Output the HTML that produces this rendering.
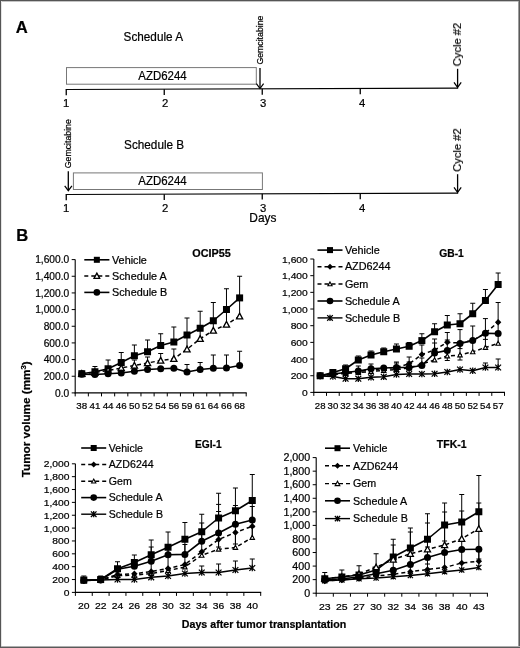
<!DOCTYPE html>
<html lang="en"><head><meta charset="utf-8"><title>Figure</title>
<style>html,body{margin:0;padding:0;background:#fff}svg{display:block}text{font-family:"Liberation Sans", Arial, Helvetica, sans-serif;fill:#000;stroke:#000;stroke-width:0.22px;paint-order:stroke fill}</style>
</head><body>
<svg width="520" height="648" viewBox="0 0 520 648">
<rect x="0" y="0" width="520" height="648" fill="#fff"/>
<defs><filter id="soft" x="-5" y="-5" width="530" height="658" filterUnits="userSpaceOnUse"><feGaussianBlur stdDeviation="0.32"/></filter></defs>
<g filter="url(#soft)">
<text transform="translate(15.80 33.20)" font-size="16.6" text-anchor="start" font-weight="bold">A</text>
<text transform="translate(16.30 241.00)" font-size="16.6" text-anchor="start" font-weight="bold">B</text>
<text transform="translate(123.60 41.00) scale(0.94 1)" font-size="12.5" text-anchor="start" font-weight="normal">Schedule A</text>
<rect x="66.5" y="67.6" width="189.8" height="16.6" fill="#fff" stroke="#777" stroke-width="1"/>
<text transform="translate(162.50 80.20) scale(0.925 1)" font-size="12.4" text-anchor="middle" font-weight="normal">AZD6244</text>
<line x1="65.70" y1="89.50" x2="458.20" y2="88.20" stroke="#000" stroke-width="1.2" stroke-linecap="butt"/>
<line x1="66.25" y1="89.50" x2="66.25" y2="95.30" stroke="#000" stroke-width="1.3" stroke-linecap="butt"/>
<text transform="translate(66.25 107.00)" font-size="11.3" text-anchor="middle" font-weight="normal">1</text>
<line x1="164.25" y1="89.17" x2="164.25" y2="94.97" stroke="#000" stroke-width="1.3" stroke-linecap="butt"/>
<text transform="translate(165.05 107.00)" font-size="11.3" text-anchor="middle" font-weight="normal">2</text>
<line x1="262.25" y1="88.85" x2="262.25" y2="94.65" stroke="#000" stroke-width="1.3" stroke-linecap="butt"/>
<text transform="translate(263.05 107.00)" font-size="11.3" text-anchor="middle" font-weight="normal">3</text>
<line x1="360.25" y1="88.52" x2="360.25" y2="94.32" stroke="#000" stroke-width="1.3" stroke-linecap="butt"/>
<text transform="translate(362.05 107.00)" font-size="11.3" text-anchor="middle" font-weight="normal">4</text>
<line x1="260.00" y1="68.00" x2="260.00" y2="88.00" stroke="#000" stroke-width="1.3" stroke-linecap="butt"/>
<polyline points="256.4,83.6 260,88.5 263.6,83.6" fill="none" stroke="#000" stroke-width="1.2"/>
<text transform="translate(263.30 64.60) rotate(-90) scale(0.93 1)" font-size="9.4" text-anchor="start" font-weight="normal">Gemcitabine</text>
<line x1="457.60" y1="68.80" x2="457.60" y2="87.00" stroke="#000" stroke-width="1.3" stroke-linecap="butt"/>
<polyline points="454,82.4 457.6,87.4 461.2,82.4" fill="none" stroke="#000" stroke-width="1.2"/>
<text transform="translate(461.00 66.30) rotate(-90) scale(0.992 1)" font-size="11.3" text-anchor="start" font-weight="normal">Cycle #2</text>
<text transform="translate(124.10 149.20) scale(0.94 1)" font-size="12.5" text-anchor="start" font-weight="normal">Schedule B</text>
<rect x="73.4" y="172.9" width="189" height="16.6" fill="#fff" stroke="#777" stroke-width="1"/>
<text transform="translate(162.50 185.20) scale(0.925 1)" font-size="12.4" text-anchor="middle" font-weight="normal">AZD6244</text>
<line x1="65.70" y1="194.50" x2="458.20" y2="193.10" stroke="#000" stroke-width="1.2" stroke-linecap="butt"/>
<line x1="66.25" y1="194.50" x2="66.25" y2="200.30" stroke="#000" stroke-width="1.3" stroke-linecap="butt"/>
<text transform="translate(66.25 211.90)" font-size="11.3" text-anchor="middle" font-weight="normal">1</text>
<line x1="164.25" y1="194.15" x2="164.25" y2="199.95" stroke="#000" stroke-width="1.3" stroke-linecap="butt"/>
<text transform="translate(165.05 211.90)" font-size="11.3" text-anchor="middle" font-weight="normal">2</text>
<line x1="262.25" y1="193.80" x2="262.25" y2="199.60" stroke="#000" stroke-width="1.3" stroke-linecap="butt"/>
<text transform="translate(263.05 211.90)" font-size="11.3" text-anchor="middle" font-weight="normal">3</text>
<line x1="360.25" y1="193.45" x2="360.25" y2="199.25" stroke="#000" stroke-width="1.3" stroke-linecap="butt"/>
<text transform="translate(362.05 211.90)" font-size="11.3" text-anchor="middle" font-weight="normal">4</text>
<line x1="68.30" y1="171.30" x2="68.30" y2="190.00" stroke="#000" stroke-width="1.3" stroke-linecap="butt"/>
<polyline points="64.7,185.8 68.3,190.7 71.9,185.8" fill="none" stroke="#000" stroke-width="1.2"/>
<text transform="translate(71.20 168.20) rotate(-90) scale(0.93 1)" font-size="9.4" text-anchor="start" font-weight="normal">Gemcitabine</text>
<line x1="457.60" y1="174.20" x2="457.60" y2="192.00" stroke="#000" stroke-width="1.3" stroke-linecap="butt"/>
<polyline points="454,187.4 457.6,192.4 461.2,187.4" fill="none" stroke="#000" stroke-width="1.2"/>
<text transform="translate(461.00 171.80) rotate(-90) scale(0.992 1)" font-size="11.3" text-anchor="start" font-weight="normal">Cycle #2</text>
<text transform="translate(262.90 222.20)" font-size="11.9" text-anchor="middle" font-weight="normal">Days</text>
<text font-size="11.3" font-weight="bold" text-anchor="middle" transform="translate(29.6 419.3) rotate(-90) scale(1.037 1)">Tumor volume (mm<tspan dy="-4" font-size="7.5">3</tspan><tspan dy="4">)</tspan></text>
<text transform="translate(264.00 628.30) scale(1.005 1)" font-size="10.6" text-anchor="middle" font-weight="bold">Days after tumor transplantation</text>
<line x1="75.20" y1="259.60" x2="75.20" y2="393.40" stroke="#000" stroke-width="1.1" stroke-linecap="butt"/>
<line x1="74.70" y1="392.90" x2="246.70" y2="392.90" stroke="#000" stroke-width="1.1" stroke-linecap="butt"/>
<line x1="71.70" y1="392.90" x2="75.20" y2="392.90" stroke="#000" stroke-width="1" stroke-linecap="butt"/>
<text transform="translate(69.20 396.57)" font-size="10.2" text-anchor="end" font-weight="normal">0.0</text>
<line x1="71.70" y1="376.24" x2="75.20" y2="376.24" stroke="#000" stroke-width="1" stroke-linecap="butt"/>
<text transform="translate(69.20 379.91)" font-size="10.2" text-anchor="end" font-weight="normal">200.0</text>
<line x1="71.70" y1="359.57" x2="75.20" y2="359.57" stroke="#000" stroke-width="1" stroke-linecap="butt"/>
<text transform="translate(69.20 363.25)" font-size="10.2" text-anchor="end" font-weight="normal">400.0</text>
<line x1="71.70" y1="342.91" x2="75.20" y2="342.91" stroke="#000" stroke-width="1" stroke-linecap="butt"/>
<text transform="translate(69.20 346.58)" font-size="10.2" text-anchor="end" font-weight="normal">600.0</text>
<line x1="71.70" y1="326.25" x2="75.20" y2="326.25" stroke="#000" stroke-width="1" stroke-linecap="butt"/>
<text transform="translate(69.20 329.92)" font-size="10.2" text-anchor="end" font-weight="normal">800.0</text>
<line x1="71.70" y1="309.59" x2="75.20" y2="309.59" stroke="#000" stroke-width="1" stroke-linecap="butt"/>
<text transform="translate(69.20 313.26)" font-size="10.2" text-anchor="end" font-weight="normal">1,000.0</text>
<line x1="71.70" y1="292.93" x2="75.20" y2="292.93" stroke="#000" stroke-width="1" stroke-linecap="butt"/>
<text transform="translate(69.20 296.60)" font-size="10.2" text-anchor="end" font-weight="normal">1,200.0</text>
<line x1="71.70" y1="276.26" x2="75.20" y2="276.26" stroke="#000" stroke-width="1" stroke-linecap="butt"/>
<text transform="translate(69.20 279.93)" font-size="10.2" text-anchor="end" font-weight="normal">1,400.0</text>
<line x1="71.70" y1="259.60" x2="75.20" y2="259.60" stroke="#000" stroke-width="1" stroke-linecap="butt"/>
<text transform="translate(69.20 263.27)" font-size="10.2" text-anchor="end" font-weight="normal">1,600.0</text>
<line x1="75.20" y1="392.90" x2="75.20" y2="396.40" stroke="#000" stroke-width="1" stroke-linecap="butt"/>
<line x1="88.35" y1="392.90" x2="88.35" y2="396.40" stroke="#000" stroke-width="1" stroke-linecap="butt"/>
<line x1="101.51" y1="392.90" x2="101.51" y2="396.40" stroke="#000" stroke-width="1" stroke-linecap="butt"/>
<line x1="114.66" y1="392.90" x2="114.66" y2="396.40" stroke="#000" stroke-width="1" stroke-linecap="butt"/>
<line x1="127.82" y1="392.90" x2="127.82" y2="396.40" stroke="#000" stroke-width="1" stroke-linecap="butt"/>
<line x1="140.97" y1="392.90" x2="140.97" y2="396.40" stroke="#000" stroke-width="1" stroke-linecap="butt"/>
<line x1="154.12" y1="392.90" x2="154.12" y2="396.40" stroke="#000" stroke-width="1" stroke-linecap="butt"/>
<line x1="167.28" y1="392.90" x2="167.28" y2="396.40" stroke="#000" stroke-width="1" stroke-linecap="butt"/>
<line x1="180.43" y1="392.90" x2="180.43" y2="396.40" stroke="#000" stroke-width="1" stroke-linecap="butt"/>
<line x1="193.58" y1="392.90" x2="193.58" y2="396.40" stroke="#000" stroke-width="1" stroke-linecap="butt"/>
<line x1="206.74" y1="392.90" x2="206.74" y2="396.40" stroke="#000" stroke-width="1" stroke-linecap="butt"/>
<line x1="219.89" y1="392.90" x2="219.89" y2="396.40" stroke="#000" stroke-width="1" stroke-linecap="butt"/>
<line x1="233.05" y1="392.90" x2="233.05" y2="396.40" stroke="#000" stroke-width="1" stroke-linecap="butt"/>
<line x1="246.20" y1="392.90" x2="246.20" y2="396.40" stroke="#000" stroke-width="1" stroke-linecap="butt"/>
<text transform="translate(81.78 408.50)" font-size="9.8" text-anchor="middle" font-weight="normal">38</text>
<text transform="translate(94.93 408.50)" font-size="9.8" text-anchor="middle" font-weight="normal">41</text>
<text transform="translate(108.08 408.50)" font-size="9.8" text-anchor="middle" font-weight="normal">44</text>
<text transform="translate(121.24 408.50)" font-size="9.8" text-anchor="middle" font-weight="normal">46</text>
<text transform="translate(134.39 408.50)" font-size="9.8" text-anchor="middle" font-weight="normal">50</text>
<text transform="translate(147.55 408.50)" font-size="9.8" text-anchor="middle" font-weight="normal">52</text>
<text transform="translate(160.70 408.50)" font-size="9.8" text-anchor="middle" font-weight="normal">54</text>
<text transform="translate(173.85 408.50)" font-size="9.8" text-anchor="middle" font-weight="normal">56</text>
<text transform="translate(187.01 408.50)" font-size="9.8" text-anchor="middle" font-weight="normal">59</text>
<text transform="translate(200.16 408.50)" font-size="9.8" text-anchor="middle" font-weight="normal">61</text>
<text transform="translate(213.32 408.50)" font-size="9.8" text-anchor="middle" font-weight="normal">64</text>
<text transform="translate(226.47 408.50)" font-size="9.8" text-anchor="middle" font-weight="normal">66</text>
<text transform="translate(239.62 408.50)" font-size="9.8" text-anchor="middle" font-weight="normal">68</text>
<line x1="187.01" y1="335.00" x2="187.01" y2="349.25" stroke="#000" stroke-width="1" stroke-linecap="butt"/>
<line x1="200.16" y1="328.25" x2="200.16" y2="338.75" stroke="#000" stroke-width="1" stroke-linecap="butt"/>
<line x1="213.32" y1="320.75" x2="213.32" y2="330.50" stroke="#000" stroke-width="1" stroke-linecap="butt"/>
<line x1="226.47" y1="309.50" x2="226.47" y2="324.50" stroke="#000" stroke-width="1" stroke-linecap="butt"/>
<line x1="239.62" y1="297.90" x2="239.62" y2="316.25" stroke="#000" stroke-width="1" stroke-linecap="butt"/>
<line x1="81.78" y1="373.75" x2="81.78" y2="371.00" stroke="#000" stroke-width="1" stroke-linecap="butt"/>
<line x1="79.28" y1="371.00" x2="84.28" y2="371.00" stroke="#000" stroke-width="1" stroke-linecap="butt"/>
<line x1="94.93" y1="371.75" x2="94.93" y2="366.50" stroke="#000" stroke-width="1" stroke-linecap="butt"/>
<line x1="92.43" y1="366.50" x2="97.43" y2="366.50" stroke="#000" stroke-width="1" stroke-linecap="butt"/>
<line x1="108.08" y1="368.75" x2="108.08" y2="360.00" stroke="#000" stroke-width="1" stroke-linecap="butt"/>
<line x1="105.58" y1="360.00" x2="110.58" y2="360.00" stroke="#000" stroke-width="1" stroke-linecap="butt"/>
<line x1="121.24" y1="362.50" x2="121.24" y2="352.50" stroke="#000" stroke-width="1" stroke-linecap="butt"/>
<line x1="118.74" y1="352.50" x2="123.74" y2="352.50" stroke="#000" stroke-width="1" stroke-linecap="butt"/>
<line x1="134.39" y1="355.75" x2="134.39" y2="345.00" stroke="#000" stroke-width="1" stroke-linecap="butt"/>
<line x1="131.89" y1="345.00" x2="136.89" y2="345.00" stroke="#000" stroke-width="1" stroke-linecap="butt"/>
<line x1="147.55" y1="351.75" x2="147.55" y2="340.00" stroke="#000" stroke-width="1" stroke-linecap="butt"/>
<line x1="145.05" y1="340.00" x2="150.05" y2="340.00" stroke="#000" stroke-width="1" stroke-linecap="butt"/>
<line x1="160.70" y1="345.50" x2="160.70" y2="333.75" stroke="#000" stroke-width="1" stroke-linecap="butt"/>
<line x1="158.20" y1="333.75" x2="163.20" y2="333.75" stroke="#000" stroke-width="1" stroke-linecap="butt"/>
<line x1="173.85" y1="342.00" x2="173.85" y2="327.00" stroke="#000" stroke-width="1" stroke-linecap="butt"/>
<line x1="171.35" y1="327.00" x2="176.35" y2="327.00" stroke="#000" stroke-width="1" stroke-linecap="butt"/>
<line x1="187.01" y1="335.00" x2="187.01" y2="318.00" stroke="#000" stroke-width="1" stroke-linecap="butt"/>
<line x1="184.51" y1="318.00" x2="189.51" y2="318.00" stroke="#000" stroke-width="1" stroke-linecap="butt"/>
<line x1="200.16" y1="328.25" x2="200.16" y2="311.25" stroke="#000" stroke-width="1" stroke-linecap="butt"/>
<line x1="197.66" y1="311.25" x2="202.66" y2="311.25" stroke="#000" stroke-width="1" stroke-linecap="butt"/>
<line x1="213.32" y1="320.75" x2="213.32" y2="302.50" stroke="#000" stroke-width="1" stroke-linecap="butt"/>
<line x1="210.82" y1="302.50" x2="215.82" y2="302.50" stroke="#000" stroke-width="1" stroke-linecap="butt"/>
<line x1="226.47" y1="309.50" x2="226.47" y2="288.75" stroke="#000" stroke-width="1" stroke-linecap="butt"/>
<line x1="223.97" y1="288.75" x2="228.97" y2="288.75" stroke="#000" stroke-width="1" stroke-linecap="butt"/>
<line x1="239.62" y1="297.90" x2="239.62" y2="276.25" stroke="#000" stroke-width="1" stroke-linecap="butt"/>
<line x1="237.12" y1="276.25" x2="242.12" y2="276.25" stroke="#000" stroke-width="1" stroke-linecap="butt"/>
<line x1="134.39" y1="365.50" x2="134.39" y2="360.00" stroke="#000" stroke-width="1" stroke-linecap="butt"/>
<line x1="131.89" y1="360.00" x2="136.89" y2="360.00" stroke="#000" stroke-width="1" stroke-linecap="butt"/>
<line x1="147.55" y1="363.00" x2="147.55" y2="357.00" stroke="#000" stroke-width="1" stroke-linecap="butt"/>
<line x1="145.05" y1="357.00" x2="150.05" y2="357.00" stroke="#000" stroke-width="1" stroke-linecap="butt"/>
<line x1="160.70" y1="360.50" x2="160.70" y2="353.50" stroke="#000" stroke-width="1" stroke-linecap="butt"/>
<line x1="158.20" y1="353.50" x2="163.20" y2="353.50" stroke="#000" stroke-width="1" stroke-linecap="butt"/>
<line x1="173.85" y1="358.75" x2="173.85" y2="349.00" stroke="#000" stroke-width="1" stroke-linecap="butt"/>
<line x1="171.35" y1="349.00" x2="176.35" y2="349.00" stroke="#000" stroke-width="1" stroke-linecap="butt"/>
<line x1="187.01" y1="372.00" x2="187.01" y2="364.50" stroke="#000" stroke-width="1" stroke-linecap="butt"/>
<line x1="184.51" y1="364.50" x2="189.51" y2="364.50" stroke="#000" stroke-width="1" stroke-linecap="butt"/>
<line x1="200.16" y1="369.50" x2="200.16" y2="362.50" stroke="#000" stroke-width="1" stroke-linecap="butt"/>
<line x1="197.66" y1="362.50" x2="202.66" y2="362.50" stroke="#000" stroke-width="1" stroke-linecap="butt"/>
<line x1="213.32" y1="368.25" x2="213.32" y2="355.00" stroke="#000" stroke-width="1" stroke-linecap="butt"/>
<line x1="210.82" y1="355.00" x2="215.82" y2="355.00" stroke="#000" stroke-width="1" stroke-linecap="butt"/>
<line x1="226.47" y1="368.00" x2="226.47" y2="355.00" stroke="#000" stroke-width="1" stroke-linecap="butt"/>
<line x1="223.97" y1="355.00" x2="228.97" y2="355.00" stroke="#000" stroke-width="1" stroke-linecap="butt"/>
<line x1="239.62" y1="365.50" x2="239.62" y2="351.25" stroke="#000" stroke-width="1" stroke-linecap="butt"/>
<line x1="237.12" y1="351.25" x2="242.12" y2="351.25" stroke="#000" stroke-width="1" stroke-linecap="butt"/>
<polyline points="81.78,373.75 94.93,371.75 108.08,368.75 121.24,362.50 134.39,355.75 147.55,351.75 160.70,345.50 173.85,342.00 187.01,335.00 200.16,328.25 213.32,320.75 226.47,309.50 239.62,297.90" fill="none" stroke="#000" stroke-width="1.6" stroke-linejoin="round"/>
<polyline points="81.78,373.75 94.93,372.50 108.08,370.50 121.24,368.00 134.39,365.50 147.55,363.00 160.70,360.50 173.85,358.75 187.01,349.25 200.16,338.75 213.32,330.50 226.47,324.50 239.62,316.25" fill="none" stroke="#000" stroke-width="1.5" stroke-dasharray="4 3" stroke-linejoin="round"/>
<polyline points="81.78,374.25 94.93,374.50 108.08,373.75 121.24,373.00 134.39,371.25 147.55,369.50 160.70,368.75 173.85,368.25 187.01,372.00 200.16,369.50 213.32,368.25 226.47,368.00 239.62,365.50" fill="none" stroke="#000" stroke-width="1.6" stroke-linejoin="round"/>
<rect x="78.28" y="370.25" width="7.00" height="7.00" fill="#000"/>
<rect x="91.43" y="368.25" width="7.00" height="7.00" fill="#000"/>
<rect x="104.58" y="365.25" width="7.00" height="7.00" fill="#000"/>
<rect x="117.74" y="359.00" width="7.00" height="7.00" fill="#000"/>
<rect x="130.89" y="352.25" width="7.00" height="7.00" fill="#000"/>
<rect x="144.05" y="348.25" width="7.00" height="7.00" fill="#000"/>
<rect x="157.20" y="342.00" width="7.00" height="7.00" fill="#000"/>
<rect x="170.35" y="338.50" width="7.00" height="7.00" fill="#000"/>
<rect x="183.51" y="331.50" width="7.00" height="7.00" fill="#000"/>
<rect x="196.66" y="324.75" width="7.00" height="7.00" fill="#000"/>
<rect x="209.82" y="317.25" width="7.00" height="7.00" fill="#000"/>
<rect x="222.97" y="306.00" width="7.00" height="7.00" fill="#000"/>
<rect x="236.12" y="294.40" width="7.00" height="7.00" fill="#000"/>
<polygon points="81.78,370.65 84.88,376.38 78.68,376.38" fill="#fff" stroke="#000" stroke-width="1.3"/>
<polygon points="94.93,369.40 98.03,375.13 91.83,375.13" fill="#fff" stroke="#000" stroke-width="1.3"/>
<polygon points="108.08,367.40 111.18,373.13 104.98,373.13" fill="#fff" stroke="#000" stroke-width="1.3"/>
<polygon points="121.24,364.90 124.34,370.63 118.14,370.63" fill="#fff" stroke="#000" stroke-width="1.3"/>
<polygon points="134.39,362.40 137.49,368.13 131.29,368.13" fill="#fff" stroke="#000" stroke-width="1.3"/>
<polygon points="147.55,359.90 150.65,365.63 144.45,365.63" fill="#fff" stroke="#000" stroke-width="1.3"/>
<polygon points="160.70,357.40 163.80,363.13 157.60,363.13" fill="#fff" stroke="#000" stroke-width="1.3"/>
<polygon points="173.85,355.65 176.95,361.38 170.75,361.38" fill="#fff" stroke="#000" stroke-width="1.3"/>
<polygon points="187.01,346.15 190.11,351.88 183.91,351.88" fill="#fff" stroke="#000" stroke-width="1.3"/>
<polygon points="200.16,335.65 203.26,341.38 197.06,341.38" fill="#fff" stroke="#000" stroke-width="1.3"/>
<polygon points="213.32,327.40 216.42,333.13 210.22,333.13" fill="#fff" stroke="#000" stroke-width="1.3"/>
<polygon points="226.47,321.40 229.57,327.13 223.37,327.13" fill="#fff" stroke="#000" stroke-width="1.3"/>
<polygon points="239.62,313.15 242.72,318.88 236.52,318.88" fill="#fff" stroke="#000" stroke-width="1.3"/>
<circle cx="81.78" cy="374.25" r="3.50" fill="#000"/>
<circle cx="94.93" cy="374.50" r="3.50" fill="#000"/>
<circle cx="108.08" cy="373.75" r="3.50" fill="#000"/>
<circle cx="121.24" cy="373.00" r="3.50" fill="#000"/>
<circle cx="134.39" cy="371.25" r="3.50" fill="#000"/>
<circle cx="147.55" cy="369.50" r="3.50" fill="#000"/>
<circle cx="160.70" cy="368.75" r="3.50" fill="#000"/>
<circle cx="173.85" cy="368.25" r="3.50" fill="#000"/>
<circle cx="187.01" cy="372.00" r="3.50" fill="#000"/>
<circle cx="200.16" cy="369.50" r="3.50" fill="#000"/>
<circle cx="213.32" cy="368.25" r="3.50" fill="#000"/>
<circle cx="226.47" cy="368.00" r="3.50" fill="#000"/>
<circle cx="239.62" cy="365.50" r="3.50" fill="#000"/>
<text transform="translate(211.50 257.00)" font-size="10.8" text-anchor="middle" font-weight="bold">OCIP55</text>
<line x1="84.30" y1="259.80" x2="109.40" y2="259.80" stroke="#000" stroke-width="1.6" stroke-linecap="butt"/>
<rect x="93.84" y="256.79" width="6.02" height="6.02" fill="#000"/>
<text transform="translate(112.00 263.50) scale(1.04 1)" font-size="10.4" text-anchor="start" font-weight="normal">Vehicle</text>
<line x1="84.30" y1="276.00" x2="109.40" y2="276.00" stroke="#000" stroke-width="1.4" stroke-dasharray="4 3" stroke-linecap="butt"/>
<polygon points="96.85,273.15 99.70,278.42 94.00,278.42" fill="#fff" stroke="#000" stroke-width="1.3"/>
<text transform="translate(112.00 279.70) scale(1.04 1)" font-size="10.4" text-anchor="start" font-weight="normal">Schedule A</text>
<line x1="84.30" y1="292.40" x2="109.40" y2="292.40" stroke="#000" stroke-width="1.6" stroke-linecap="butt"/>
<circle cx="96.85" cy="292.40" r="3.32" fill="#000"/>
<text transform="translate(112.00 296.10) scale(1.04 1)" font-size="10.4" text-anchor="start" font-weight="normal">Schedule B</text>
<line x1="313.80" y1="259.00" x2="313.80" y2="392.90" stroke="#000" stroke-width="1.1" stroke-linecap="butt"/>
<line x1="313.30" y1="392.40" x2="505.00" y2="392.40" stroke="#000" stroke-width="1.1" stroke-linecap="butt"/>
<line x1="310.30" y1="392.40" x2="313.80" y2="392.40" stroke="#000" stroke-width="1" stroke-linecap="butt"/>
<text transform="translate(307.80 395.96) scale(1.04 1)" font-size="9.9" text-anchor="end" font-weight="normal">0</text>
<line x1="310.30" y1="375.72" x2="313.80" y2="375.72" stroke="#000" stroke-width="1" stroke-linecap="butt"/>
<text transform="translate(307.80 379.29) scale(1.04 1)" font-size="9.9" text-anchor="end" font-weight="normal">200</text>
<line x1="310.30" y1="359.05" x2="313.80" y2="359.05" stroke="#000" stroke-width="1" stroke-linecap="butt"/>
<text transform="translate(307.80 362.61) scale(1.04 1)" font-size="9.9" text-anchor="end" font-weight="normal">400</text>
<line x1="310.30" y1="342.38" x2="313.80" y2="342.38" stroke="#000" stroke-width="1" stroke-linecap="butt"/>
<text transform="translate(307.80 345.94) scale(1.04 1)" font-size="9.9" text-anchor="end" font-weight="normal">600</text>
<line x1="310.30" y1="325.70" x2="313.80" y2="325.70" stroke="#000" stroke-width="1" stroke-linecap="butt"/>
<text transform="translate(307.80 329.26) scale(1.04 1)" font-size="9.9" text-anchor="end" font-weight="normal">800</text>
<line x1="310.30" y1="309.02" x2="313.80" y2="309.02" stroke="#000" stroke-width="1" stroke-linecap="butt"/>
<text transform="translate(307.80 312.59) scale(1.04 1)" font-size="9.9" text-anchor="end" font-weight="normal">1,000</text>
<line x1="310.30" y1="292.35" x2="313.80" y2="292.35" stroke="#000" stroke-width="1" stroke-linecap="butt"/>
<text transform="translate(307.80 295.91) scale(1.04 1)" font-size="9.9" text-anchor="end" font-weight="normal">1,200</text>
<line x1="310.30" y1="275.68" x2="313.80" y2="275.68" stroke="#000" stroke-width="1" stroke-linecap="butt"/>
<text transform="translate(307.80 279.24) scale(1.04 1)" font-size="9.9" text-anchor="end" font-weight="normal">1,400</text>
<line x1="310.30" y1="259.00" x2="313.80" y2="259.00" stroke="#000" stroke-width="1" stroke-linecap="butt"/>
<text transform="translate(307.80 262.56) scale(1.04 1)" font-size="9.9" text-anchor="end" font-weight="normal">1,600</text>
<line x1="313.80" y1="392.40" x2="313.80" y2="395.90" stroke="#000" stroke-width="1" stroke-linecap="butt"/>
<line x1="326.51" y1="392.40" x2="326.51" y2="395.90" stroke="#000" stroke-width="1" stroke-linecap="butt"/>
<line x1="339.23" y1="392.40" x2="339.23" y2="395.90" stroke="#000" stroke-width="1" stroke-linecap="butt"/>
<line x1="351.94" y1="392.40" x2="351.94" y2="395.90" stroke="#000" stroke-width="1" stroke-linecap="butt"/>
<line x1="364.65" y1="392.40" x2="364.65" y2="395.90" stroke="#000" stroke-width="1" stroke-linecap="butt"/>
<line x1="377.37" y1="392.40" x2="377.37" y2="395.90" stroke="#000" stroke-width="1" stroke-linecap="butt"/>
<line x1="390.08" y1="392.40" x2="390.08" y2="395.90" stroke="#000" stroke-width="1" stroke-linecap="butt"/>
<line x1="402.79" y1="392.40" x2="402.79" y2="395.90" stroke="#000" stroke-width="1" stroke-linecap="butt"/>
<line x1="415.51" y1="392.40" x2="415.51" y2="395.90" stroke="#000" stroke-width="1" stroke-linecap="butt"/>
<line x1="428.22" y1="392.40" x2="428.22" y2="395.90" stroke="#000" stroke-width="1" stroke-linecap="butt"/>
<line x1="440.93" y1="392.40" x2="440.93" y2="395.90" stroke="#000" stroke-width="1" stroke-linecap="butt"/>
<line x1="453.65" y1="392.40" x2="453.65" y2="395.90" stroke="#000" stroke-width="1" stroke-linecap="butt"/>
<line x1="466.36" y1="392.40" x2="466.36" y2="395.90" stroke="#000" stroke-width="1" stroke-linecap="butt"/>
<line x1="479.07" y1="392.40" x2="479.07" y2="395.90" stroke="#000" stroke-width="1" stroke-linecap="butt"/>
<line x1="491.79" y1="392.40" x2="491.79" y2="395.90" stroke="#000" stroke-width="1" stroke-linecap="butt"/>
<line x1="504.50" y1="392.40" x2="504.50" y2="395.90" stroke="#000" stroke-width="1" stroke-linecap="butt"/>
<text transform="translate(320.16 408.80)" font-size="9.6" text-anchor="middle" font-weight="normal">28</text>
<text transform="translate(332.87 408.80)" font-size="9.6" text-anchor="middle" font-weight="normal">30</text>
<text transform="translate(345.58 408.80)" font-size="9.6" text-anchor="middle" font-weight="normal">32</text>
<text transform="translate(358.30 408.80)" font-size="9.6" text-anchor="middle" font-weight="normal">34</text>
<text transform="translate(371.01 408.80)" font-size="9.6" text-anchor="middle" font-weight="normal">36</text>
<text transform="translate(383.72 408.80)" font-size="9.6" text-anchor="middle" font-weight="normal">38</text>
<text transform="translate(396.44 408.80)" font-size="9.6" text-anchor="middle" font-weight="normal">40</text>
<text transform="translate(409.15 408.80)" font-size="9.6" text-anchor="middle" font-weight="normal">42</text>
<text transform="translate(421.86 408.80)" font-size="9.6" text-anchor="middle" font-weight="normal">44</text>
<text transform="translate(434.58 408.80)" font-size="9.6" text-anchor="middle" font-weight="normal">46</text>
<text transform="translate(447.29 408.80)" font-size="9.6" text-anchor="middle" font-weight="normal">48</text>
<text transform="translate(460.00 408.80)" font-size="9.6" text-anchor="middle" font-weight="normal">50</text>
<text transform="translate(472.72 408.80)" font-size="9.6" text-anchor="middle" font-weight="normal">52</text>
<text transform="translate(485.43 408.80)" font-size="9.6" text-anchor="middle" font-weight="normal">54</text>
<text transform="translate(498.14 408.80)" font-size="9.6" text-anchor="middle" font-weight="normal">57</text>
<line x1="434.58" y1="353.00" x2="434.58" y2="360.00" stroke="#000" stroke-width="1" stroke-linecap="butt"/>
<line x1="447.29" y1="350.40" x2="447.29" y2="356.00" stroke="#000" stroke-width="1" stroke-linecap="butt"/>
<line x1="460.00" y1="343.40" x2="460.00" y2="355.00" stroke="#000" stroke-width="1" stroke-linecap="butt"/>
<line x1="472.72" y1="340.60" x2="472.72" y2="351.80" stroke="#000" stroke-width="1" stroke-linecap="butt"/>
<line x1="485.43" y1="333.30" x2="485.43" y2="347.50" stroke="#000" stroke-width="1" stroke-linecap="butt"/>
<line x1="498.14" y1="322.20" x2="498.14" y2="343.40" stroke="#000" stroke-width="1" stroke-linecap="butt"/>
<line x1="345.58" y1="368.75" x2="345.58" y2="365.00" stroke="#000" stroke-width="1" stroke-linecap="butt"/>
<line x1="343.08" y1="365.00" x2="348.08" y2="365.00" stroke="#000" stroke-width="1" stroke-linecap="butt"/>
<line x1="358.30" y1="360.00" x2="358.30" y2="356.00" stroke="#000" stroke-width="1" stroke-linecap="butt"/>
<line x1="355.80" y1="356.00" x2="360.80" y2="356.00" stroke="#000" stroke-width="1" stroke-linecap="butt"/>
<line x1="371.01" y1="355.00" x2="371.01" y2="351.00" stroke="#000" stroke-width="1" stroke-linecap="butt"/>
<line x1="368.51" y1="351.00" x2="373.51" y2="351.00" stroke="#000" stroke-width="1" stroke-linecap="butt"/>
<line x1="383.72" y1="351.75" x2="383.72" y2="348.00" stroke="#000" stroke-width="1" stroke-linecap="butt"/>
<line x1="381.22" y1="348.00" x2="386.22" y2="348.00" stroke="#000" stroke-width="1" stroke-linecap="butt"/>
<line x1="396.44" y1="349.00" x2="396.44" y2="344.00" stroke="#000" stroke-width="1" stroke-linecap="butt"/>
<line x1="393.94" y1="344.00" x2="398.94" y2="344.00" stroke="#000" stroke-width="1" stroke-linecap="butt"/>
<line x1="409.15" y1="346.25" x2="409.15" y2="342.50" stroke="#000" stroke-width="1" stroke-linecap="butt"/>
<line x1="406.65" y1="342.50" x2="411.65" y2="342.50" stroke="#000" stroke-width="1" stroke-linecap="butt"/>
<line x1="421.86" y1="340.60" x2="421.86" y2="333.75" stroke="#000" stroke-width="1" stroke-linecap="butt"/>
<line x1="419.36" y1="333.75" x2="424.36" y2="333.75" stroke="#000" stroke-width="1" stroke-linecap="butt"/>
<line x1="434.58" y1="331.75" x2="434.58" y2="323.75" stroke="#000" stroke-width="1" stroke-linecap="butt"/>
<line x1="432.08" y1="323.75" x2="437.08" y2="323.75" stroke="#000" stroke-width="1" stroke-linecap="butt"/>
<line x1="447.29" y1="325.00" x2="447.29" y2="315.50" stroke="#000" stroke-width="1" stroke-linecap="butt"/>
<line x1="444.79" y1="315.50" x2="449.79" y2="315.50" stroke="#000" stroke-width="1" stroke-linecap="butt"/>
<line x1="460.00" y1="323.75" x2="460.00" y2="313.75" stroke="#000" stroke-width="1" stroke-linecap="butt"/>
<line x1="457.50" y1="313.75" x2="462.50" y2="313.75" stroke="#000" stroke-width="1" stroke-linecap="butt"/>
<line x1="472.72" y1="313.75" x2="472.72" y2="303.25" stroke="#000" stroke-width="1" stroke-linecap="butt"/>
<line x1="470.22" y1="303.25" x2="475.22" y2="303.25" stroke="#000" stroke-width="1" stroke-linecap="butt"/>
<line x1="485.43" y1="300.50" x2="485.43" y2="289.50" stroke="#000" stroke-width="1" stroke-linecap="butt"/>
<line x1="482.93" y1="289.50" x2="487.93" y2="289.50" stroke="#000" stroke-width="1" stroke-linecap="butt"/>
<line x1="498.14" y1="284.50" x2="498.14" y2="273.00" stroke="#000" stroke-width="1" stroke-linecap="butt"/>
<line x1="495.64" y1="273.00" x2="500.64" y2="273.00" stroke="#000" stroke-width="1" stroke-linecap="butt"/>
<line x1="396.44" y1="367.50" x2="396.44" y2="363.00" stroke="#000" stroke-width="1" stroke-linecap="butt"/>
<line x1="393.94" y1="363.00" x2="398.94" y2="363.00" stroke="#000" stroke-width="1" stroke-linecap="butt"/>
<line x1="409.15" y1="363.75" x2="409.15" y2="357.00" stroke="#000" stroke-width="1" stroke-linecap="butt"/>
<line x1="406.65" y1="357.00" x2="411.65" y2="357.00" stroke="#000" stroke-width="1" stroke-linecap="butt"/>
<line x1="421.86" y1="354.50" x2="421.86" y2="345.00" stroke="#000" stroke-width="1" stroke-linecap="butt"/>
<line x1="419.36" y1="345.00" x2="424.36" y2="345.00" stroke="#000" stroke-width="1" stroke-linecap="butt"/>
<line x1="434.58" y1="350.00" x2="434.58" y2="339.00" stroke="#000" stroke-width="1" stroke-linecap="butt"/>
<line x1="432.08" y1="339.00" x2="437.08" y2="339.00" stroke="#000" stroke-width="1" stroke-linecap="butt"/>
<line x1="447.29" y1="342.30" x2="447.29" y2="332.50" stroke="#000" stroke-width="1" stroke-linecap="butt"/>
<line x1="444.79" y1="332.50" x2="449.79" y2="332.50" stroke="#000" stroke-width="1" stroke-linecap="butt"/>
<line x1="460.00" y1="343.00" x2="460.00" y2="329.60" stroke="#000" stroke-width="1" stroke-linecap="butt"/>
<line x1="457.50" y1="329.60" x2="462.50" y2="329.60" stroke="#000" stroke-width="1" stroke-linecap="butt"/>
<line x1="472.72" y1="340.50" x2="472.72" y2="326.00" stroke="#000" stroke-width="1" stroke-linecap="butt"/>
<line x1="470.22" y1="326.00" x2="475.22" y2="326.00" stroke="#000" stroke-width="1" stroke-linecap="butt"/>
<line x1="485.43" y1="333.00" x2="485.43" y2="318.60" stroke="#000" stroke-width="1" stroke-linecap="butt"/>
<line x1="482.93" y1="318.60" x2="487.93" y2="318.60" stroke="#000" stroke-width="1" stroke-linecap="butt"/>
<line x1="498.14" y1="322.20" x2="498.14" y2="302.50" stroke="#000" stroke-width="1" stroke-linecap="butt"/>
<line x1="495.64" y1="302.50" x2="500.64" y2="302.50" stroke="#000" stroke-width="1" stroke-linecap="butt"/>
<line x1="447.29" y1="356.00" x2="447.29" y2="360.50" stroke="#000" stroke-width="1" stroke-linecap="butt"/>
<line x1="444.79" y1="360.50" x2="449.79" y2="360.50" stroke="#000" stroke-width="1" stroke-linecap="butt"/>
<line x1="460.00" y1="355.00" x2="460.00" y2="360.00" stroke="#000" stroke-width="1" stroke-linecap="butt"/>
<line x1="457.50" y1="360.00" x2="462.50" y2="360.00" stroke="#000" stroke-width="1" stroke-linecap="butt"/>
<line x1="358.30" y1="371.00" x2="358.30" y2="366.00" stroke="#000" stroke-width="1" stroke-linecap="butt"/>
<line x1="355.80" y1="366.00" x2="360.80" y2="366.00" stroke="#000" stroke-width="1" stroke-linecap="butt"/>
<line x1="371.01" y1="368.75" x2="371.01" y2="364.00" stroke="#000" stroke-width="1" stroke-linecap="butt"/>
<line x1="368.51" y1="364.00" x2="373.51" y2="364.00" stroke="#000" stroke-width="1" stroke-linecap="butt"/>
<line x1="396.44" y1="367.50" x2="396.44" y2="362.00" stroke="#000" stroke-width="1" stroke-linecap="butt"/>
<line x1="393.94" y1="362.00" x2="398.94" y2="362.00" stroke="#000" stroke-width="1" stroke-linecap="butt"/>
<line x1="409.15" y1="367.50" x2="409.15" y2="362.00" stroke="#000" stroke-width="1" stroke-linecap="butt"/>
<line x1="406.65" y1="362.00" x2="411.65" y2="362.00" stroke="#000" stroke-width="1" stroke-linecap="butt"/>
<line x1="421.86" y1="365.50" x2="421.86" y2="358.00" stroke="#000" stroke-width="1" stroke-linecap="butt"/>
<line x1="419.36" y1="358.00" x2="424.36" y2="358.00" stroke="#000" stroke-width="1" stroke-linecap="butt"/>
<line x1="434.58" y1="353.00" x2="434.58" y2="343.00" stroke="#000" stroke-width="1" stroke-linecap="butt"/>
<line x1="432.08" y1="343.00" x2="437.08" y2="343.00" stroke="#000" stroke-width="1" stroke-linecap="butt"/>
<line x1="447.29" y1="350.40" x2="447.29" y2="340.00" stroke="#000" stroke-width="1" stroke-linecap="butt"/>
<line x1="444.79" y1="340.00" x2="449.79" y2="340.00" stroke="#000" stroke-width="1" stroke-linecap="butt"/>
<line x1="460.00" y1="343.40" x2="460.00" y2="348.60" stroke="#000" stroke-width="1" stroke-linecap="butt"/>
<line x1="457.50" y1="348.60" x2="462.50" y2="348.60" stroke="#000" stroke-width="1" stroke-linecap="butt"/>
<line x1="485.43" y1="333.30" x2="485.43" y2="339.40" stroke="#000" stroke-width="1" stroke-linecap="butt"/>
<line x1="482.93" y1="339.40" x2="487.93" y2="339.40" stroke="#000" stroke-width="1" stroke-linecap="butt"/>
<line x1="485.43" y1="367.50" x2="485.43" y2="363.00" stroke="#000" stroke-width="1" stroke-linecap="butt"/>
<line x1="482.93" y1="363.00" x2="487.93" y2="363.00" stroke="#000" stroke-width="1" stroke-linecap="butt"/>
<line x1="498.14" y1="367.50" x2="498.14" y2="359.00" stroke="#000" stroke-width="1" stroke-linecap="butt"/>
<line x1="495.64" y1="359.00" x2="500.64" y2="359.00" stroke="#000" stroke-width="1" stroke-linecap="butt"/>
<polyline points="320.16,375.75 332.87,372.50 345.58,368.75 358.30,360.00 371.01,355.00 383.72,351.75 396.44,349.00 409.15,346.25 421.86,340.60 434.58,331.75 447.29,325.00 460.00,323.75 472.72,313.75 485.43,300.50 498.14,284.50" fill="none" stroke="#000" stroke-width="1.6" stroke-linejoin="round"/>
<polyline points="320.16,375.50 332.87,374.00 345.58,372.50 358.30,371.50 371.01,370.00 383.72,368.50 396.44,367.50 409.15,363.75 421.86,354.50 434.58,350.00 447.29,342.30 460.00,343.00 472.72,340.50 485.43,333.00 498.14,322.20" fill="none" stroke="#000" stroke-width="1.5" stroke-dasharray="4 3" stroke-linejoin="round"/>
<polyline points="320.16,375.50 332.87,374.50 345.58,373.50 358.30,372.50 371.01,371.50 383.72,370.50 396.44,369.50 409.15,368.00 421.86,364.00 434.58,360.00 447.29,356.00 460.00,355.00 472.72,351.80 485.43,347.50 498.14,343.40" fill="none" stroke="#000" stroke-width="1.5" stroke-dasharray="4 3" stroke-linejoin="round"/>
<polyline points="320.16,375.75 332.87,374.00 345.58,372.50 358.30,371.00 371.01,368.75 383.72,368.00 396.44,367.50 409.15,367.50 421.86,365.50 434.58,353.00 447.29,350.40 460.00,343.40 472.72,340.60 485.43,333.30 498.14,333.60" fill="none" stroke="#000" stroke-width="1.6" stroke-linejoin="round"/>
<polyline points="320.16,376.00 332.87,376.50 345.58,378.70 358.30,378.70 371.01,377.30 383.72,376.80 396.44,374.50 409.15,374.00 421.86,374.00 434.58,373.75 447.29,372.00 460.00,369.50 472.72,370.75 485.43,367.50 498.14,367.50" fill="none" stroke="#000" stroke-width="1.4" stroke-linejoin="round"/>
<rect x="316.66" y="372.25" width="7.00" height="7.00" fill="#000"/>
<rect x="329.37" y="369.00" width="7.00" height="7.00" fill="#000"/>
<rect x="342.08" y="365.25" width="7.00" height="7.00" fill="#000"/>
<rect x="354.80" y="356.50" width="7.00" height="7.00" fill="#000"/>
<rect x="367.51" y="351.50" width="7.00" height="7.00" fill="#000"/>
<rect x="380.22" y="348.25" width="7.00" height="7.00" fill="#000"/>
<rect x="392.94" y="345.50" width="7.00" height="7.00" fill="#000"/>
<rect x="405.65" y="342.75" width="7.00" height="7.00" fill="#000"/>
<rect x="418.36" y="337.10" width="7.00" height="7.00" fill="#000"/>
<rect x="431.08" y="328.25" width="7.00" height="7.00" fill="#000"/>
<rect x="443.79" y="321.50" width="7.00" height="7.00" fill="#000"/>
<rect x="456.50" y="320.25" width="7.00" height="7.00" fill="#000"/>
<rect x="469.22" y="310.25" width="7.00" height="7.00" fill="#000"/>
<rect x="481.93" y="297.00" width="7.00" height="7.00" fill="#000"/>
<rect x="494.64" y="281.00" width="7.00" height="7.00" fill="#000"/>
<polygon points="320.16,372.30 323.36,375.50 320.16,378.70 316.96,375.50" fill="#000"/>
<polygon points="332.87,370.80 336.07,374.00 332.87,377.20 329.67,374.00" fill="#000"/>
<polygon points="345.58,369.30 348.78,372.50 345.58,375.70 342.38,372.50" fill="#000"/>
<polygon points="358.30,368.30 361.50,371.50 358.30,374.70 355.10,371.50" fill="#000"/>
<polygon points="371.01,366.80 374.21,370.00 371.01,373.20 367.81,370.00" fill="#000"/>
<polygon points="383.72,365.30 386.92,368.50 383.72,371.70 380.52,368.50" fill="#000"/>
<polygon points="396.44,364.30 399.64,367.50 396.44,370.70 393.24,367.50" fill="#000"/>
<polygon points="409.15,360.55 412.35,363.75 409.15,366.95 405.95,363.75" fill="#000"/>
<polygon points="421.86,351.30 425.06,354.50 421.86,357.70 418.66,354.50" fill="#000"/>
<polygon points="434.58,346.80 437.78,350.00 434.58,353.20 431.38,350.00" fill="#000"/>
<polygon points="447.29,339.10 450.49,342.30 447.29,345.50 444.09,342.30" fill="#000"/>
<polygon points="460.00,339.80 463.20,343.00 460.00,346.20 456.80,343.00" fill="#000"/>
<polygon points="472.72,337.30 475.92,340.50 472.72,343.70 469.52,340.50" fill="#000"/>
<polygon points="485.43,329.80 488.63,333.00 485.43,336.20 482.23,333.00" fill="#000"/>
<polygon points="498.14,319.00 501.34,322.20 498.14,325.40 494.94,322.20" fill="#000"/>
<polygon points="320.16,373.27 322.39,377.40 317.92,377.40" fill="#fff" stroke="#000" stroke-width="1.1"/>
<polygon points="332.87,372.27 335.10,376.40 330.64,376.40" fill="#fff" stroke="#000" stroke-width="1.1"/>
<polygon points="345.58,371.27 347.82,375.40 343.35,375.40" fill="#fff" stroke="#000" stroke-width="1.1"/>
<polygon points="358.30,370.27 360.53,374.40 356.06,374.40" fill="#fff" stroke="#000" stroke-width="1.1"/>
<polygon points="371.01,369.27 373.24,373.40 368.78,373.40" fill="#fff" stroke="#000" stroke-width="1.1"/>
<polygon points="383.72,368.27 385.96,372.40 381.49,372.40" fill="#fff" stroke="#000" stroke-width="1.1"/>
<polygon points="396.44,367.27 398.67,371.40 394.20,371.40" fill="#fff" stroke="#000" stroke-width="1.1"/>
<polygon points="409.15,365.77 411.38,369.90 406.92,369.90" fill="#fff" stroke="#000" stroke-width="1.1"/>
<polygon points="421.86,361.77 424.10,365.90 419.63,365.90" fill="#fff" stroke="#000" stroke-width="1.1"/>
<polygon points="434.58,357.77 436.81,361.90 432.34,361.90" fill="#fff" stroke="#000" stroke-width="1.1"/>
<polygon points="447.29,353.77 449.52,357.90 445.06,357.90" fill="#fff" stroke="#000" stroke-width="1.1"/>
<polygon points="460.00,352.77 462.24,356.90 457.77,356.90" fill="#fff" stroke="#000" stroke-width="1.1"/>
<polygon points="472.72,349.57 474.95,353.70 470.48,353.70" fill="#fff" stroke="#000" stroke-width="1.1"/>
<polygon points="485.43,345.27 487.66,349.40 483.20,349.40" fill="#fff" stroke="#000" stroke-width="1.1"/>
<polygon points="498.14,341.17 500.38,345.30 495.91,345.30" fill="#fff" stroke="#000" stroke-width="1.1"/>
<circle cx="320.16" cy="375.75" r="3.50" fill="#000"/>
<circle cx="332.87" cy="374.00" r="3.50" fill="#000"/>
<circle cx="345.58" cy="372.50" r="3.50" fill="#000"/>
<circle cx="358.30" cy="371.00" r="3.50" fill="#000"/>
<circle cx="371.01" cy="368.75" r="3.50" fill="#000"/>
<circle cx="383.72" cy="368.00" r="3.50" fill="#000"/>
<circle cx="396.44" cy="367.50" r="3.50" fill="#000"/>
<circle cx="409.15" cy="367.50" r="3.50" fill="#000"/>
<circle cx="421.86" cy="365.50" r="3.50" fill="#000"/>
<circle cx="434.58" cy="353.00" r="3.50" fill="#000"/>
<circle cx="447.29" cy="350.40" r="3.50" fill="#000"/>
<circle cx="460.00" cy="343.40" r="3.50" fill="#000"/>
<circle cx="472.72" cy="340.60" r="3.50" fill="#000"/>
<circle cx="485.43" cy="333.30" r="3.50" fill="#000"/>
<circle cx="498.14" cy="333.60" r="3.50" fill="#000"/>
<path d="M317.25,373.10L323.06,378.90M317.25,378.90L323.06,373.10M320.16,372.81L320.16,379.19" stroke="#000" stroke-width="1.25" fill="none"/>
<path d="M329.97,373.60L335.77,379.40M329.97,379.40L335.77,373.60M332.87,373.31L332.87,379.69" stroke="#000" stroke-width="1.25" fill="none"/>
<path d="M342.68,375.80L348.49,381.60M342.68,381.60L348.49,375.80M345.58,375.51L345.58,381.89" stroke="#000" stroke-width="1.25" fill="none"/>
<path d="M355.39,375.80L361.20,381.60M355.39,381.60L361.20,375.80M358.30,375.51L358.30,381.89" stroke="#000" stroke-width="1.25" fill="none"/>
<path d="M368.11,374.40L373.91,380.20M368.11,380.20L373.91,374.40M371.01,374.11L371.01,380.49" stroke="#000" stroke-width="1.25" fill="none"/>
<path d="M380.82,373.90L386.63,379.70M380.82,379.70L386.63,373.90M383.72,373.61L383.72,379.99" stroke="#000" stroke-width="1.25" fill="none"/>
<path d="M393.53,371.60L399.34,377.40M393.53,377.40L399.34,371.60M396.44,371.31L396.44,377.69" stroke="#000" stroke-width="1.25" fill="none"/>
<path d="M406.25,371.10L412.05,376.90M406.25,376.90L412.05,371.10M409.15,370.81L409.15,377.19" stroke="#000" stroke-width="1.25" fill="none"/>
<path d="M418.96,371.10L424.77,376.90M418.96,376.90L424.77,371.10M421.86,370.81L421.86,377.19" stroke="#000" stroke-width="1.25" fill="none"/>
<path d="M431.67,370.85L437.48,376.65M431.67,376.65L437.48,370.85M434.58,370.56L434.58,376.94" stroke="#000" stroke-width="1.25" fill="none"/>
<path d="M444.39,369.10L450.19,374.90M444.39,374.90L450.19,369.10M447.29,368.81L447.29,375.19" stroke="#000" stroke-width="1.25" fill="none"/>
<path d="M457.10,366.60L462.91,372.40M457.10,372.40L462.91,366.60M460.00,366.31L460.00,372.69" stroke="#000" stroke-width="1.25" fill="none"/>
<path d="M469.81,367.85L475.62,373.65M469.81,373.65L475.62,367.85M472.72,367.56L472.72,373.94" stroke="#000" stroke-width="1.25" fill="none"/>
<path d="M482.53,364.60L488.33,370.40M482.53,370.40L488.33,364.60M485.43,364.31L485.43,370.69" stroke="#000" stroke-width="1.25" fill="none"/>
<path d="M495.24,364.60L501.05,370.40M495.24,370.40L501.05,364.60M498.14,364.31L498.14,370.69" stroke="#000" stroke-width="1.25" fill="none"/>
<text transform="translate(451.50 257.00)" font-size="10.3" text-anchor="middle" font-weight="bold">GB-1</text>
<line x1="317.50" y1="250.10" x2="342.50" y2="250.10" stroke="#000" stroke-width="1.6" stroke-linecap="butt"/>
<rect x="326.99" y="247.09" width="6.02" height="6.02" fill="#000"/>
<text transform="translate(344.90 253.80) scale(1.04 1)" font-size="10.4" text-anchor="start" font-weight="normal">Vehicle</text>
<line x1="317.50" y1="266.70" x2="342.50" y2="266.70" stroke="#000" stroke-width="1.4" stroke-dasharray="4 3" stroke-linecap="butt"/>
<polygon points="330.00,263.66 333.04,266.70 330.00,269.74 326.96,266.70" fill="#000"/>
<text transform="translate(344.90 270.40) scale(1.04 1)" font-size="10.4" text-anchor="start" font-weight="normal">AZD6244</text>
<line x1="317.50" y1="284.00" x2="342.50" y2="284.00" stroke="#000" stroke-width="1.4" stroke-dasharray="4 3" stroke-linecap="butt"/>
<polygon points="330.00,281.89 332.11,285.79 327.89,285.79" fill="#fff" stroke="#000" stroke-width="1.1"/>
<text transform="translate(344.90 287.70) scale(1.04 1)" font-size="10.4" text-anchor="start" font-weight="normal">Gem</text>
<line x1="317.50" y1="301.00" x2="342.50" y2="301.00" stroke="#000" stroke-width="1.6" stroke-linecap="butt"/>
<circle cx="330.00" cy="301.00" r="3.32" fill="#000"/>
<text transform="translate(344.90 304.70) scale(1.04 1)" font-size="10.4" text-anchor="start" font-weight="normal">Schedule A</text>
<line x1="317.50" y1="317.90" x2="342.50" y2="317.90" stroke="#000" stroke-width="1.4" stroke-linecap="butt"/>
<path d="M327.19,315.09L332.81,320.70M327.19,320.70L332.81,315.09M330.00,314.81L330.00,320.99" stroke="#000" stroke-width="1.25" fill="none"/>
<text transform="translate(344.90 321.60) scale(1.04 1)" font-size="10.4" text-anchor="start" font-weight="normal">Schedule B</text>
<line x1="75.40" y1="463.80" x2="75.40" y2="592.90" stroke="#000" stroke-width="1.1" stroke-linecap="butt"/>
<line x1="74.90" y1="592.40" x2="261.20" y2="592.40" stroke="#000" stroke-width="1.1" stroke-linecap="butt"/>
<line x1="71.90" y1="592.40" x2="75.40" y2="592.40" stroke="#000" stroke-width="1" stroke-linecap="butt"/>
<text transform="translate(69.40 595.93) scale(1.05 1)" font-size="9.8" text-anchor="end" font-weight="normal">0</text>
<line x1="71.90" y1="579.54" x2="75.40" y2="579.54" stroke="#000" stroke-width="1" stroke-linecap="butt"/>
<text transform="translate(69.40 583.07) scale(1.05 1)" font-size="9.8" text-anchor="end" font-weight="normal">200</text>
<line x1="71.90" y1="566.68" x2="75.40" y2="566.68" stroke="#000" stroke-width="1" stroke-linecap="butt"/>
<text transform="translate(69.40 570.21) scale(1.05 1)" font-size="9.8" text-anchor="end" font-weight="normal">400</text>
<line x1="71.90" y1="553.82" x2="75.40" y2="553.82" stroke="#000" stroke-width="1" stroke-linecap="butt"/>
<text transform="translate(69.40 557.35) scale(1.05 1)" font-size="9.8" text-anchor="end" font-weight="normal">600</text>
<line x1="71.90" y1="540.96" x2="75.40" y2="540.96" stroke="#000" stroke-width="1" stroke-linecap="butt"/>
<text transform="translate(69.40 544.49) scale(1.05 1)" font-size="9.8" text-anchor="end" font-weight="normal">800</text>
<line x1="71.90" y1="528.10" x2="75.40" y2="528.10" stroke="#000" stroke-width="1" stroke-linecap="butt"/>
<text transform="translate(69.40 531.63) scale(1.05 1)" font-size="9.8" text-anchor="end" font-weight="normal">1,000</text>
<line x1="71.90" y1="515.24" x2="75.40" y2="515.24" stroke="#000" stroke-width="1" stroke-linecap="butt"/>
<text transform="translate(69.40 518.77) scale(1.05 1)" font-size="9.8" text-anchor="end" font-weight="normal">1,200</text>
<line x1="71.90" y1="502.38" x2="75.40" y2="502.38" stroke="#000" stroke-width="1" stroke-linecap="butt"/>
<text transform="translate(69.40 505.91) scale(1.05 1)" font-size="9.8" text-anchor="end" font-weight="normal">1,400</text>
<line x1="71.90" y1="489.52" x2="75.40" y2="489.52" stroke="#000" stroke-width="1" stroke-linecap="butt"/>
<text transform="translate(69.40 493.05) scale(1.05 1)" font-size="9.8" text-anchor="end" font-weight="normal">1,600</text>
<line x1="71.90" y1="476.66" x2="75.40" y2="476.66" stroke="#000" stroke-width="1" stroke-linecap="butt"/>
<text transform="translate(69.40 480.19) scale(1.05 1)" font-size="9.8" text-anchor="end" font-weight="normal">1,800</text>
<line x1="71.90" y1="463.80" x2="75.40" y2="463.80" stroke="#000" stroke-width="1" stroke-linecap="butt"/>
<text transform="translate(69.40 467.33) scale(1.05 1)" font-size="9.8" text-anchor="end" font-weight="normal">2,000</text>
<line x1="75.40" y1="592.40" x2="75.40" y2="595.90" stroke="#000" stroke-width="1" stroke-linecap="butt"/>
<line x1="92.25" y1="592.40" x2="92.25" y2="595.90" stroke="#000" stroke-width="1" stroke-linecap="butt"/>
<line x1="109.09" y1="592.40" x2="109.09" y2="595.90" stroke="#000" stroke-width="1" stroke-linecap="butt"/>
<line x1="125.94" y1="592.40" x2="125.94" y2="595.90" stroke="#000" stroke-width="1" stroke-linecap="butt"/>
<line x1="142.78" y1="592.40" x2="142.78" y2="595.90" stroke="#000" stroke-width="1" stroke-linecap="butt"/>
<line x1="159.63" y1="592.40" x2="159.63" y2="595.90" stroke="#000" stroke-width="1" stroke-linecap="butt"/>
<line x1="176.47" y1="592.40" x2="176.47" y2="595.90" stroke="#000" stroke-width="1" stroke-linecap="butt"/>
<line x1="193.32" y1="592.40" x2="193.32" y2="595.90" stroke="#000" stroke-width="1" stroke-linecap="butt"/>
<line x1="210.16" y1="592.40" x2="210.16" y2="595.90" stroke="#000" stroke-width="1" stroke-linecap="butt"/>
<line x1="227.01" y1="592.40" x2="227.01" y2="595.90" stroke="#000" stroke-width="1" stroke-linecap="butt"/>
<line x1="243.85" y1="592.40" x2="243.85" y2="595.90" stroke="#000" stroke-width="1" stroke-linecap="butt"/>
<line x1="260.70" y1="592.40" x2="260.70" y2="595.90" stroke="#000" stroke-width="1" stroke-linecap="butt"/>
<text transform="translate(83.82 609.10) scale(1.06 1)" font-size="9.8" text-anchor="middle" font-weight="normal">20</text>
<text transform="translate(100.67 609.10) scale(1.06 1)" font-size="9.8" text-anchor="middle" font-weight="normal">22</text>
<text transform="translate(117.51 609.10) scale(1.06 1)" font-size="9.8" text-anchor="middle" font-weight="normal">24</text>
<text transform="translate(134.36 609.10) scale(1.06 1)" font-size="9.8" text-anchor="middle" font-weight="normal">26</text>
<text transform="translate(151.20 609.10) scale(1.06 1)" font-size="9.8" text-anchor="middle" font-weight="normal">28</text>
<text transform="translate(168.05 609.10) scale(1.06 1)" font-size="9.8" text-anchor="middle" font-weight="normal">30</text>
<text transform="translate(184.90 609.10) scale(1.06 1)" font-size="9.8" text-anchor="middle" font-weight="normal">32</text>
<text transform="translate(201.74 609.10) scale(1.06 1)" font-size="9.8" text-anchor="middle" font-weight="normal">34</text>
<text transform="translate(218.59 609.10) scale(1.06 1)" font-size="9.8" text-anchor="middle" font-weight="normal">36</text>
<text transform="translate(235.43 609.10) scale(1.06 1)" font-size="9.8" text-anchor="middle" font-weight="normal">38</text>
<text transform="translate(252.28 609.10) scale(1.06 1)" font-size="9.8" text-anchor="middle" font-weight="normal">40</text>
<line x1="151.20" y1="554.75" x2="151.20" y2="577.30" stroke="#000" stroke-width="1" stroke-linecap="butt"/>
<line x1="168.05" y1="547.25" x2="168.05" y2="576.00" stroke="#000" stroke-width="1" stroke-linecap="butt"/>
<line x1="184.90" y1="539.25" x2="184.90" y2="566.25" stroke="#000" stroke-width="1" stroke-linecap="butt"/>
<line x1="201.74" y1="531.75" x2="201.74" y2="555.00" stroke="#000" stroke-width="1" stroke-linecap="butt"/>
<line x1="218.59" y1="518.00" x2="218.59" y2="549.25" stroke="#000" stroke-width="1" stroke-linecap="butt"/>
<line x1="235.43" y1="510.75" x2="235.43" y2="547.50" stroke="#000" stroke-width="1" stroke-linecap="butt"/>
<line x1="252.28" y1="500.50" x2="252.28" y2="537.50" stroke="#000" stroke-width="1" stroke-linecap="butt"/>
<line x1="83.82" y1="580.00" x2="83.82" y2="576.00" stroke="#000" stroke-width="1" stroke-linecap="butt"/>
<line x1="81.32" y1="576.00" x2="86.32" y2="576.00" stroke="#000" stroke-width="1" stroke-linecap="butt"/>
<line x1="100.67" y1="579.50" x2="100.67" y2="576.00" stroke="#000" stroke-width="1" stroke-linecap="butt"/>
<line x1="98.17" y1="576.00" x2="103.17" y2="576.00" stroke="#000" stroke-width="1" stroke-linecap="butt"/>
<line x1="117.51" y1="568.75" x2="117.51" y2="561.75" stroke="#000" stroke-width="1" stroke-linecap="butt"/>
<line x1="115.01" y1="561.75" x2="120.01" y2="561.75" stroke="#000" stroke-width="1" stroke-linecap="butt"/>
<line x1="134.36" y1="562.50" x2="134.36" y2="555.00" stroke="#000" stroke-width="1" stroke-linecap="butt"/>
<line x1="131.86" y1="555.00" x2="136.86" y2="555.00" stroke="#000" stroke-width="1" stroke-linecap="butt"/>
<line x1="151.20" y1="554.75" x2="151.20" y2="540.00" stroke="#000" stroke-width="1" stroke-linecap="butt"/>
<line x1="148.70" y1="540.00" x2="153.70" y2="540.00" stroke="#000" stroke-width="1" stroke-linecap="butt"/>
<line x1="168.05" y1="547.25" x2="168.05" y2="532.00" stroke="#000" stroke-width="1" stroke-linecap="butt"/>
<line x1="165.55" y1="532.00" x2="170.55" y2="532.00" stroke="#000" stroke-width="1" stroke-linecap="butt"/>
<line x1="184.90" y1="539.25" x2="184.90" y2="522.50" stroke="#000" stroke-width="1" stroke-linecap="butt"/>
<line x1="182.40" y1="522.50" x2="187.40" y2="522.50" stroke="#000" stroke-width="1" stroke-linecap="butt"/>
<line x1="201.74" y1="531.75" x2="201.74" y2="514.25" stroke="#000" stroke-width="1" stroke-linecap="butt"/>
<line x1="199.24" y1="514.25" x2="204.24" y2="514.25" stroke="#000" stroke-width="1" stroke-linecap="butt"/>
<line x1="218.59" y1="518.00" x2="218.59" y2="493.25" stroke="#000" stroke-width="1" stroke-linecap="butt"/>
<line x1="216.09" y1="493.25" x2="221.09" y2="493.25" stroke="#000" stroke-width="1" stroke-linecap="butt"/>
<line x1="235.43" y1="510.75" x2="235.43" y2="488.00" stroke="#000" stroke-width="1" stroke-linecap="butt"/>
<line x1="232.93" y1="488.00" x2="237.93" y2="488.00" stroke="#000" stroke-width="1" stroke-linecap="butt"/>
<line x1="252.28" y1="500.50" x2="252.28" y2="474.50" stroke="#000" stroke-width="1" stroke-linecap="butt"/>
<line x1="249.78" y1="474.50" x2="254.78" y2="474.50" stroke="#000" stroke-width="1" stroke-linecap="butt"/>
<line x1="218.59" y1="539.50" x2="218.59" y2="511.50" stroke="#000" stroke-width="1" stroke-linecap="butt"/>
<line x1="216.09" y1="511.50" x2="221.09" y2="511.50" stroke="#000" stroke-width="1" stroke-linecap="butt"/>
<line x1="218.59" y1="539.50" x2="218.59" y2="547.00" stroke="#000" stroke-width="1" stroke-linecap="butt"/>
<line x1="216.09" y1="547.00" x2="221.09" y2="547.00" stroke="#000" stroke-width="1" stroke-linecap="butt"/>
<line x1="235.43" y1="532.50" x2="235.43" y2="544.00" stroke="#000" stroke-width="1" stroke-linecap="butt"/>
<line x1="232.93" y1="544.00" x2="237.93" y2="544.00" stroke="#000" stroke-width="1" stroke-linecap="butt"/>
<line x1="252.28" y1="537.50" x2="252.28" y2="527.00" stroke="#000" stroke-width="1" stroke-linecap="butt"/>
<line x1="249.78" y1="527.00" x2="254.78" y2="527.00" stroke="#000" stroke-width="1" stroke-linecap="butt"/>
<line x1="151.20" y1="561.25" x2="151.20" y2="547.00" stroke="#000" stroke-width="1" stroke-linecap="butt"/>
<line x1="148.70" y1="547.00" x2="153.70" y2="547.00" stroke="#000" stroke-width="1" stroke-linecap="butt"/>
<line x1="168.05" y1="554.75" x2="168.05" y2="545.00" stroke="#000" stroke-width="1" stroke-linecap="butt"/>
<line x1="165.55" y1="545.00" x2="170.55" y2="545.00" stroke="#000" stroke-width="1" stroke-linecap="butt"/>
<line x1="184.90" y1="554.40" x2="184.90" y2="544.50" stroke="#000" stroke-width="1" stroke-linecap="butt"/>
<line x1="182.40" y1="544.50" x2="187.40" y2="544.50" stroke="#000" stroke-width="1" stroke-linecap="butt"/>
<line x1="201.74" y1="541.25" x2="201.74" y2="523.00" stroke="#000" stroke-width="1" stroke-linecap="butt"/>
<line x1="199.24" y1="523.00" x2="204.24" y2="523.00" stroke="#000" stroke-width="1" stroke-linecap="butt"/>
<line x1="218.59" y1="533.00" x2="218.59" y2="504.40" stroke="#000" stroke-width="1" stroke-linecap="butt"/>
<line x1="216.09" y1="504.40" x2="221.09" y2="504.40" stroke="#000" stroke-width="1" stroke-linecap="butt"/>
<line x1="235.43" y1="524.25" x2="235.43" y2="505.50" stroke="#000" stroke-width="1" stroke-linecap="butt"/>
<line x1="232.93" y1="505.50" x2="237.93" y2="505.50" stroke="#000" stroke-width="1" stroke-linecap="butt"/>
<line x1="252.28" y1="520.00" x2="252.28" y2="506.50" stroke="#000" stroke-width="1" stroke-linecap="butt"/>
<line x1="249.78" y1="506.50" x2="254.78" y2="506.50" stroke="#000" stroke-width="1" stroke-linecap="butt"/>
<line x1="201.74" y1="572.50" x2="201.74" y2="566.00" stroke="#000" stroke-width="1" stroke-linecap="butt"/>
<line x1="199.24" y1="566.00" x2="204.24" y2="566.00" stroke="#000" stroke-width="1" stroke-linecap="butt"/>
<line x1="218.59" y1="572.50" x2="218.59" y2="564.00" stroke="#000" stroke-width="1" stroke-linecap="butt"/>
<line x1="216.09" y1="564.00" x2="221.09" y2="564.00" stroke="#000" stroke-width="1" stroke-linecap="butt"/>
<line x1="235.43" y1="570.00" x2="235.43" y2="561.00" stroke="#000" stroke-width="1" stroke-linecap="butt"/>
<line x1="232.93" y1="561.00" x2="237.93" y2="561.00" stroke="#000" stroke-width="1" stroke-linecap="butt"/>
<line x1="252.28" y1="568.00" x2="252.28" y2="559.00" stroke="#000" stroke-width="1" stroke-linecap="butt"/>
<line x1="249.78" y1="559.00" x2="254.78" y2="559.00" stroke="#000" stroke-width="1" stroke-linecap="butt"/>
<polyline points="83.82,580.00 100.67,579.50 117.51,568.75 134.36,562.50 151.20,554.75 168.05,547.25 184.90,539.25 201.74,531.75 218.59,518.00 235.43,510.75 252.28,500.50" fill="none" stroke="#000" stroke-width="1.6" stroke-linejoin="round"/>
<polyline points="83.82,580.20 100.67,579.80 117.51,574.50 134.36,573.75 151.20,571.50 168.05,568.50 184.90,564.50 201.74,551.75 218.59,539.50 235.43,532.50 252.28,526.25" fill="none" stroke="#000" stroke-width="1.5" stroke-dasharray="4 3" stroke-linejoin="round"/>
<polyline points="83.82,580.40 100.67,580.00 117.51,575.60 134.36,575.20 151.20,573.60 168.05,570.60 184.90,567.00 201.74,555.30 218.59,549.25 235.43,547.50 252.28,537.50" fill="none" stroke="#000" stroke-width="1.5" stroke-dasharray="4 3" stroke-linejoin="round"/>
<polyline points="83.82,580.50 100.67,580.00 117.51,569.25 134.36,566.25 151.20,561.25 168.05,554.75 184.90,554.40 201.74,541.25 218.59,533.00 235.43,524.25 252.28,520.00" fill="none" stroke="#000" stroke-width="1.6" stroke-linejoin="round"/>
<polyline points="83.82,580.50 100.67,580.00 117.51,579.50 134.36,579.50 151.20,577.30 168.05,576.00 184.90,573.50 201.74,572.50 218.59,572.50 235.43,570.00 252.28,568.00" fill="none" stroke="#000" stroke-width="1.4" stroke-linejoin="round"/>
<rect x="80.32" y="576.50" width="7.00" height="7.00" fill="#000"/>
<rect x="97.17" y="576.00" width="7.00" height="7.00" fill="#000"/>
<rect x="114.01" y="565.25" width="7.00" height="7.00" fill="#000"/>
<rect x="130.86" y="559.00" width="7.00" height="7.00" fill="#000"/>
<rect x="147.70" y="551.25" width="7.00" height="7.00" fill="#000"/>
<rect x="164.55" y="543.75" width="7.00" height="7.00" fill="#000"/>
<rect x="181.40" y="535.75" width="7.00" height="7.00" fill="#000"/>
<rect x="198.24" y="528.25" width="7.00" height="7.00" fill="#000"/>
<rect x="215.09" y="514.50" width="7.00" height="7.00" fill="#000"/>
<rect x="231.93" y="507.25" width="7.00" height="7.00" fill="#000"/>
<rect x="248.78" y="497.00" width="7.00" height="7.00" fill="#000"/>
<polygon points="83.82,578.17 86.05,582.30 81.59,582.30" fill="#fff" stroke="#000" stroke-width="1.1"/>
<polygon points="100.67,577.77 102.90,581.90 98.44,581.90" fill="#fff" stroke="#000" stroke-width="1.1"/>
<polygon points="117.51,573.37 119.75,577.50 115.28,577.50" fill="#fff" stroke="#000" stroke-width="1.1"/>
<polygon points="134.36,572.97 136.59,577.10 132.13,577.10" fill="#fff" stroke="#000" stroke-width="1.1"/>
<polygon points="151.20,571.37 153.44,575.50 148.97,575.50" fill="#fff" stroke="#000" stroke-width="1.1"/>
<polygon points="168.05,568.37 170.28,572.50 165.82,572.50" fill="#fff" stroke="#000" stroke-width="1.1"/>
<polygon points="184.90,564.77 187.13,568.90 182.66,568.90" fill="#fff" stroke="#000" stroke-width="1.1"/>
<polygon points="201.74,553.07 203.97,557.20 199.51,557.20" fill="#fff" stroke="#000" stroke-width="1.1"/>
<polygon points="218.59,547.02 220.82,551.15 216.35,551.15" fill="#fff" stroke="#000" stroke-width="1.1"/>
<polygon points="235.43,545.27 237.66,549.40 233.20,549.40" fill="#fff" stroke="#000" stroke-width="1.1"/>
<polygon points="252.28,535.27 254.51,539.40 250.05,539.40" fill="#fff" stroke="#000" stroke-width="1.1"/>
<polygon points="83.82,577.00 87.02,580.20 83.82,583.40 80.62,580.20" fill="#000"/>
<polygon points="100.67,576.60 103.87,579.80 100.67,583.00 97.47,579.80" fill="#000"/>
<polygon points="117.51,571.30 120.71,574.50 117.51,577.70 114.31,574.50" fill="#000"/>
<polygon points="134.36,570.55 137.56,573.75 134.36,576.95 131.16,573.75" fill="#000"/>
<polygon points="151.20,568.30 154.40,571.50 151.20,574.70 148.00,571.50" fill="#000"/>
<polygon points="168.05,565.30 171.25,568.50 168.05,571.70 164.85,568.50" fill="#000"/>
<polygon points="184.90,561.30 188.10,564.50 184.90,567.70 181.70,564.50" fill="#000"/>
<polygon points="201.74,548.55 204.94,551.75 201.74,554.95 198.54,551.75" fill="#000"/>
<polygon points="218.59,536.30 221.79,539.50 218.59,542.70 215.39,539.50" fill="#000"/>
<polygon points="235.43,529.30 238.63,532.50 235.43,535.70 232.23,532.50" fill="#000"/>
<polygon points="252.28,523.05 255.48,526.25 252.28,529.45 249.08,526.25" fill="#000"/>
<circle cx="83.82" cy="580.50" r="3.50" fill="#000"/>
<circle cx="100.67" cy="580.00" r="3.50" fill="#000"/>
<circle cx="117.51" cy="569.25" r="3.50" fill="#000"/>
<circle cx="134.36" cy="566.25" r="3.50" fill="#000"/>
<circle cx="151.20" cy="561.25" r="3.50" fill="#000"/>
<circle cx="168.05" cy="554.75" r="3.50" fill="#000"/>
<circle cx="184.90" cy="554.40" r="3.50" fill="#000"/>
<circle cx="201.74" cy="541.25" r="3.50" fill="#000"/>
<circle cx="218.59" cy="533.00" r="3.50" fill="#000"/>
<circle cx="235.43" cy="524.25" r="3.50" fill="#000"/>
<circle cx="252.28" cy="520.00" r="3.50" fill="#000"/>
<path d="M80.92,577.60L86.73,583.40M80.92,583.40L86.73,577.60M83.82,577.31L83.82,583.69" stroke="#000" stroke-width="1.25" fill="none"/>
<path d="M97.76,577.10L103.57,582.90M97.76,582.90L103.57,577.10M100.67,576.81L100.67,583.19" stroke="#000" stroke-width="1.25" fill="none"/>
<path d="M114.61,576.60L120.42,582.40M114.61,582.40L120.42,576.60M117.51,576.31L117.51,582.69" stroke="#000" stroke-width="1.25" fill="none"/>
<path d="M131.46,576.60L137.26,582.40M131.46,582.40L137.26,576.60M134.36,576.31L134.36,582.69" stroke="#000" stroke-width="1.25" fill="none"/>
<path d="M148.30,574.40L154.11,580.20M148.30,580.20L154.11,574.40M151.20,574.11L151.20,580.49" stroke="#000" stroke-width="1.25" fill="none"/>
<path d="M165.15,573.10L170.95,578.90M165.15,578.90L170.95,573.10M168.05,572.81L168.05,579.19" stroke="#000" stroke-width="1.25" fill="none"/>
<path d="M181.99,570.60L187.80,576.40M181.99,576.40L187.80,570.60M184.90,570.31L184.90,576.69" stroke="#000" stroke-width="1.25" fill="none"/>
<path d="M198.84,569.60L204.64,575.40M198.84,575.40L204.64,569.60M201.74,569.31L201.74,575.69" stroke="#000" stroke-width="1.25" fill="none"/>
<path d="M215.68,569.60L221.49,575.40M215.68,575.40L221.49,569.60M218.59,569.31L218.59,575.69" stroke="#000" stroke-width="1.25" fill="none"/>
<path d="M232.53,567.10L238.34,572.90M232.53,572.90L238.34,567.10M235.43,566.81L235.43,573.19" stroke="#000" stroke-width="1.25" fill="none"/>
<path d="M249.37,565.10L255.18,570.90M249.37,570.90L255.18,565.10M252.28,564.81L252.28,571.19" stroke="#000" stroke-width="1.25" fill="none"/>
<text transform="translate(208.30 447.80)" font-size="10.2" text-anchor="middle" font-weight="bold">EGI-1</text>
<line x1="81.20" y1="448.00" x2="106.20" y2="448.00" stroke="#000" stroke-width="1.6" stroke-linecap="butt"/>
<rect x="90.69" y="444.99" width="6.02" height="6.02" fill="#000"/>
<text transform="translate(108.80 451.70) scale(1.02 1)" font-size="10.4" text-anchor="start" font-weight="normal">Vehicle</text>
<line x1="81.20" y1="464.50" x2="106.20" y2="464.50" stroke="#000" stroke-width="1.4" stroke-dasharray="4 3" stroke-linecap="butt"/>
<polygon points="93.70,461.46 96.74,464.50 93.70,467.54 90.66,464.50" fill="#000"/>
<text transform="translate(108.80 468.20) scale(1.02 1)" font-size="10.4" text-anchor="start" font-weight="normal">AZD6244</text>
<line x1="81.20" y1="481.20" x2="106.20" y2="481.20" stroke="#000" stroke-width="1.4" stroke-dasharray="4 3" stroke-linecap="butt"/>
<polygon points="93.70,479.09 95.81,482.99 91.59,482.99" fill="#fff" stroke="#000" stroke-width="1.1"/>
<text transform="translate(108.80 484.90) scale(1.02 1)" font-size="10.4" text-anchor="start" font-weight="normal">Gem</text>
<line x1="81.20" y1="497.60" x2="106.20" y2="497.60" stroke="#000" stroke-width="1.6" stroke-linecap="butt"/>
<circle cx="93.70" cy="497.60" r="3.32" fill="#000"/>
<text transform="translate(108.80 501.30) scale(1.02 1)" font-size="10.4" text-anchor="start" font-weight="normal">Schedule A</text>
<line x1="81.20" y1="514.20" x2="106.20" y2="514.20" stroke="#000" stroke-width="1.4" stroke-linecap="butt"/>
<path d="M90.90,511.40L96.50,517.00M90.90,517.00L96.50,511.40M93.70,511.11L93.70,517.29" stroke="#000" stroke-width="1.25" fill="none"/>
<text transform="translate(108.80 517.90) scale(1.02 1)" font-size="10.4" text-anchor="start" font-weight="normal">Schedule B</text>
<line x1="316.20" y1="457.60" x2="316.20" y2="593.70" stroke="#000" stroke-width="1.1" stroke-linecap="butt"/>
<line x1="315.70" y1="593.20" x2="487.90" y2="593.20" stroke="#000" stroke-width="1.1" stroke-linecap="butt"/>
<line x1="312.70" y1="593.20" x2="316.20" y2="593.20" stroke="#000" stroke-width="1" stroke-linecap="butt"/>
<text transform="translate(310.20 596.87) scale(1.05 1)" font-size="10.2" text-anchor="end" font-weight="normal">0</text>
<line x1="312.70" y1="579.64" x2="316.20" y2="579.64" stroke="#000" stroke-width="1" stroke-linecap="butt"/>
<text transform="translate(310.20 583.31) scale(1.05 1)" font-size="10.2" text-anchor="end" font-weight="normal">200</text>
<line x1="312.70" y1="566.08" x2="316.20" y2="566.08" stroke="#000" stroke-width="1" stroke-linecap="butt"/>
<text transform="translate(310.20 569.75) scale(1.05 1)" font-size="10.2" text-anchor="end" font-weight="normal">400</text>
<line x1="312.70" y1="552.52" x2="316.20" y2="552.52" stroke="#000" stroke-width="1" stroke-linecap="butt"/>
<text transform="translate(310.20 556.19) scale(1.05 1)" font-size="10.2" text-anchor="end" font-weight="normal">600</text>
<line x1="312.70" y1="538.96" x2="316.20" y2="538.96" stroke="#000" stroke-width="1" stroke-linecap="butt"/>
<text transform="translate(310.20 542.63) scale(1.05 1)" font-size="10.2" text-anchor="end" font-weight="normal">800</text>
<line x1="312.70" y1="525.40" x2="316.20" y2="525.40" stroke="#000" stroke-width="1" stroke-linecap="butt"/>
<text transform="translate(310.20 529.07) scale(1.05 1)" font-size="10.2" text-anchor="end" font-weight="normal">1,000</text>
<line x1="312.70" y1="511.84" x2="316.20" y2="511.84" stroke="#000" stroke-width="1" stroke-linecap="butt"/>
<text transform="translate(310.20 515.51) scale(1.05 1)" font-size="10.2" text-anchor="end" font-weight="normal">1,200</text>
<line x1="312.70" y1="498.28" x2="316.20" y2="498.28" stroke="#000" stroke-width="1" stroke-linecap="butt"/>
<text transform="translate(310.20 501.95) scale(1.05 1)" font-size="10.2" text-anchor="end" font-weight="normal">1,400</text>
<line x1="312.70" y1="484.72" x2="316.20" y2="484.72" stroke="#000" stroke-width="1" stroke-linecap="butt"/>
<text transform="translate(310.20 488.39) scale(1.05 1)" font-size="10.2" text-anchor="end" font-weight="normal">1,600</text>
<line x1="312.70" y1="471.16" x2="316.20" y2="471.16" stroke="#000" stroke-width="1" stroke-linecap="butt"/>
<text transform="translate(310.20 474.83) scale(1.05 1)" font-size="10.2" text-anchor="end" font-weight="normal">1,800</text>
<line x1="312.70" y1="457.60" x2="316.20" y2="457.60" stroke="#000" stroke-width="1" stroke-linecap="butt"/>
<text transform="translate(310.20 461.27) scale(1.05 1)" font-size="10.2" text-anchor="end" font-weight="normal">2,000</text>
<line x1="316.20" y1="593.20" x2="316.20" y2="596.70" stroke="#000" stroke-width="1" stroke-linecap="butt"/>
<line x1="333.32" y1="593.20" x2="333.32" y2="596.70" stroke="#000" stroke-width="1" stroke-linecap="butt"/>
<line x1="350.44" y1="593.20" x2="350.44" y2="596.70" stroke="#000" stroke-width="1" stroke-linecap="butt"/>
<line x1="367.56" y1="593.20" x2="367.56" y2="596.70" stroke="#000" stroke-width="1" stroke-linecap="butt"/>
<line x1="384.68" y1="593.20" x2="384.68" y2="596.70" stroke="#000" stroke-width="1" stroke-linecap="butt"/>
<line x1="401.80" y1="593.20" x2="401.80" y2="596.70" stroke="#000" stroke-width="1" stroke-linecap="butt"/>
<line x1="418.92" y1="593.20" x2="418.92" y2="596.70" stroke="#000" stroke-width="1" stroke-linecap="butt"/>
<line x1="436.04" y1="593.20" x2="436.04" y2="596.70" stroke="#000" stroke-width="1" stroke-linecap="butt"/>
<line x1="453.16" y1="593.20" x2="453.16" y2="596.70" stroke="#000" stroke-width="1" stroke-linecap="butt"/>
<line x1="470.28" y1="593.20" x2="470.28" y2="596.70" stroke="#000" stroke-width="1" stroke-linecap="butt"/>
<line x1="487.40" y1="593.20" x2="487.40" y2="596.70" stroke="#000" stroke-width="1" stroke-linecap="butt"/>
<text transform="translate(324.76 610.10) scale(1.06 1)" font-size="9.9" text-anchor="middle" font-weight="normal">23</text>
<text transform="translate(341.88 610.10) scale(1.06 1)" font-size="9.9" text-anchor="middle" font-weight="normal">25</text>
<text transform="translate(359.00 610.10) scale(1.06 1)" font-size="9.9" text-anchor="middle" font-weight="normal">27</text>
<text transform="translate(376.12 610.10) scale(1.06 1)" font-size="9.9" text-anchor="middle" font-weight="normal">30</text>
<text transform="translate(393.24 610.10) scale(1.06 1)" font-size="9.9" text-anchor="middle" font-weight="normal">32</text>
<text transform="translate(410.36 610.10) scale(1.06 1)" font-size="9.9" text-anchor="middle" font-weight="normal">34</text>
<text transform="translate(427.48 610.10) scale(1.06 1)" font-size="9.9" text-anchor="middle" font-weight="normal">36</text>
<text transform="translate(444.60 610.10) scale(1.06 1)" font-size="9.9" text-anchor="middle" font-weight="normal">38</text>
<text transform="translate(461.72 610.10) scale(1.06 1)" font-size="9.9" text-anchor="middle" font-weight="normal">40</text>
<text transform="translate(478.84 610.10) scale(1.06 1)" font-size="9.9" text-anchor="middle" font-weight="normal">43</text>
<line x1="376.12" y1="570.00" x2="376.12" y2="578.00" stroke="#000" stroke-width="1" stroke-linecap="butt"/>
<line x1="393.24" y1="557.00" x2="393.24" y2="576.75" stroke="#000" stroke-width="1" stroke-linecap="butt"/>
<line x1="410.36" y1="548.00" x2="410.36" y2="575.50" stroke="#000" stroke-width="1" stroke-linecap="butt"/>
<line x1="427.48" y1="539.25" x2="427.48" y2="573.75" stroke="#000" stroke-width="1" stroke-linecap="butt"/>
<line x1="444.60" y1="525.00" x2="444.60" y2="571.75" stroke="#000" stroke-width="1" stroke-linecap="butt"/>
<line x1="461.72" y1="522.00" x2="461.72" y2="570.00" stroke="#000" stroke-width="1" stroke-linecap="butt"/>
<line x1="478.84" y1="511.75" x2="478.84" y2="567.50" stroke="#000" stroke-width="1" stroke-linecap="butt"/>
<line x1="324.76" y1="578.75" x2="324.76" y2="572.50" stroke="#000" stroke-width="1" stroke-linecap="butt"/>
<line x1="322.26" y1="572.50" x2="327.26" y2="572.50" stroke="#000" stroke-width="1" stroke-linecap="butt"/>
<line x1="341.88" y1="577.00" x2="341.88" y2="570.00" stroke="#000" stroke-width="1" stroke-linecap="butt"/>
<line x1="339.38" y1="570.00" x2="344.38" y2="570.00" stroke="#000" stroke-width="1" stroke-linecap="butt"/>
<line x1="359.00" y1="575.00" x2="359.00" y2="565.75" stroke="#000" stroke-width="1" stroke-linecap="butt"/>
<line x1="356.50" y1="565.75" x2="361.50" y2="565.75" stroke="#000" stroke-width="1" stroke-linecap="butt"/>
<line x1="376.12" y1="570.00" x2="376.12" y2="553.75" stroke="#000" stroke-width="1" stroke-linecap="butt"/>
<line x1="373.62" y1="553.75" x2="378.62" y2="553.75" stroke="#000" stroke-width="1" stroke-linecap="butt"/>
<line x1="393.24" y1="557.00" x2="393.24" y2="539.25" stroke="#000" stroke-width="1" stroke-linecap="butt"/>
<line x1="390.74" y1="539.25" x2="395.74" y2="539.25" stroke="#000" stroke-width="1" stroke-linecap="butt"/>
<line x1="410.36" y1="548.00" x2="410.36" y2="528.00" stroke="#000" stroke-width="1" stroke-linecap="butt"/>
<line x1="407.86" y1="528.00" x2="412.86" y2="528.00" stroke="#000" stroke-width="1" stroke-linecap="butt"/>
<line x1="427.48" y1="539.25" x2="427.48" y2="513.75" stroke="#000" stroke-width="1" stroke-linecap="butt"/>
<line x1="424.98" y1="513.75" x2="429.98" y2="513.75" stroke="#000" stroke-width="1" stroke-linecap="butt"/>
<line x1="444.60" y1="525.00" x2="444.60" y2="503.00" stroke="#000" stroke-width="1" stroke-linecap="butt"/>
<line x1="442.10" y1="503.00" x2="447.10" y2="503.00" stroke="#000" stroke-width="1" stroke-linecap="butt"/>
<line x1="461.72" y1="522.00" x2="461.72" y2="494.50" stroke="#000" stroke-width="1" stroke-linecap="butt"/>
<line x1="459.22" y1="494.50" x2="464.22" y2="494.50" stroke="#000" stroke-width="1" stroke-linecap="butt"/>
<line x1="478.84" y1="511.75" x2="478.84" y2="475.50" stroke="#000" stroke-width="1" stroke-linecap="butt"/>
<line x1="476.34" y1="475.50" x2="481.34" y2="475.50" stroke="#000" stroke-width="1" stroke-linecap="butt"/>
<line x1="393.24" y1="559.50" x2="393.24" y2="545.00" stroke="#000" stroke-width="1" stroke-linecap="butt"/>
<line x1="390.74" y1="545.00" x2="395.74" y2="545.00" stroke="#000" stroke-width="1" stroke-linecap="butt"/>
<line x1="410.36" y1="553.75" x2="410.36" y2="532.00" stroke="#000" stroke-width="1" stroke-linecap="butt"/>
<line x1="407.86" y1="532.00" x2="412.86" y2="532.00" stroke="#000" stroke-width="1" stroke-linecap="butt"/>
<line x1="427.48" y1="549.25" x2="427.48" y2="523.00" stroke="#000" stroke-width="1" stroke-linecap="butt"/>
<line x1="424.98" y1="523.00" x2="429.98" y2="523.00" stroke="#000" stroke-width="1" stroke-linecap="butt"/>
<line x1="444.60" y1="545.00" x2="444.60" y2="512.00" stroke="#000" stroke-width="1" stroke-linecap="butt"/>
<line x1="442.10" y1="512.00" x2="447.10" y2="512.00" stroke="#000" stroke-width="1" stroke-linecap="butt"/>
<line x1="461.72" y1="538.75" x2="461.72" y2="511.00" stroke="#000" stroke-width="1" stroke-linecap="butt"/>
<line x1="459.22" y1="511.00" x2="464.22" y2="511.00" stroke="#000" stroke-width="1" stroke-linecap="butt"/>
<line x1="478.84" y1="528.75" x2="478.84" y2="503.00" stroke="#000" stroke-width="1" stroke-linecap="butt"/>
<line x1="476.34" y1="503.00" x2="481.34" y2="503.00" stroke="#000" stroke-width="1" stroke-linecap="butt"/>
<line x1="410.36" y1="564.50" x2="410.36" y2="556.00" stroke="#000" stroke-width="1" stroke-linecap="butt"/>
<line x1="407.86" y1="556.00" x2="412.86" y2="556.00" stroke="#000" stroke-width="1" stroke-linecap="butt"/>
<line x1="427.48" y1="557.50" x2="427.48" y2="547.00" stroke="#000" stroke-width="1" stroke-linecap="butt"/>
<line x1="424.98" y1="547.00" x2="429.98" y2="547.00" stroke="#000" stroke-width="1" stroke-linecap="butt"/>
<line x1="444.60" y1="552.50" x2="444.60" y2="541.00" stroke="#000" stroke-width="1" stroke-linecap="butt"/>
<line x1="442.10" y1="541.00" x2="447.10" y2="541.00" stroke="#000" stroke-width="1" stroke-linecap="butt"/>
<line x1="427.48" y1="557.50" x2="427.48" y2="564.00" stroke="#000" stroke-width="1" stroke-linecap="butt"/>
<line x1="424.98" y1="564.00" x2="429.98" y2="564.00" stroke="#000" stroke-width="1" stroke-linecap="butt"/>
<line x1="478.84" y1="549.25" x2="478.84" y2="559.00" stroke="#000" stroke-width="1" stroke-linecap="butt"/>
<line x1="476.34" y1="559.00" x2="481.34" y2="559.00" stroke="#000" stroke-width="1" stroke-linecap="butt"/>
<polyline points="324.76,578.75 341.88,577.00 359.00,575.00 376.12,570.00 393.24,557.00 410.36,548.00 427.48,539.25 444.60,525.00 461.72,522.00 478.84,511.75" fill="none" stroke="#000" stroke-width="1.6" stroke-linejoin="round"/>
<polyline points="324.76,581.00 341.88,580.00 359.00,578.20 376.12,576.00 393.24,574.30 410.36,571.75 427.48,569.50 444.60,567.50 461.72,563.00 478.84,561.25" fill="none" stroke="#000" stroke-width="1.5" stroke-dasharray="4 3" stroke-linejoin="round"/>
<polyline points="324.76,578.50 341.88,577.00 359.00,574.00 376.12,567.20 393.24,559.50 410.36,553.75 427.48,549.25 444.60,545.00 461.72,538.75 478.84,528.75" fill="none" stroke="#000" stroke-width="1.5" stroke-dasharray="4 3" stroke-linejoin="round"/>
<polyline points="324.76,580.00 341.88,578.75 359.00,577.00 376.12,573.75 393.24,570.30 410.36,564.50 427.48,557.50 444.60,552.50 461.72,549.50 478.84,549.25" fill="none" stroke="#000" stroke-width="1.6" stroke-linejoin="round"/>
<polyline points="324.76,580.75 341.88,580.00 359.00,578.75 376.12,578.00 393.24,576.75 410.36,575.50 427.48,573.75 444.60,571.75 461.72,570.00 478.84,567.50" fill="none" stroke="#000" stroke-width="1.4" stroke-linejoin="round"/>
<rect x="321.26" y="575.25" width="7.00" height="7.00" fill="#000"/>
<rect x="338.38" y="573.50" width="7.00" height="7.00" fill="#000"/>
<rect x="355.50" y="571.50" width="7.00" height="7.00" fill="#000"/>
<rect x="372.62" y="566.50" width="7.00" height="7.00" fill="#000"/>
<rect x="389.74" y="553.50" width="7.00" height="7.00" fill="#000"/>
<rect x="406.86" y="544.50" width="7.00" height="7.00" fill="#000"/>
<rect x="423.98" y="535.75" width="7.00" height="7.00" fill="#000"/>
<rect x="441.10" y="521.50" width="7.00" height="7.00" fill="#000"/>
<rect x="458.22" y="518.50" width="7.00" height="7.00" fill="#000"/>
<rect x="475.34" y="508.25" width="7.00" height="7.00" fill="#000"/>
<polygon points="324.76,577.80 327.96,581.00 324.76,584.20 321.56,581.00" fill="#000"/>
<polygon points="341.88,576.80 345.08,580.00 341.88,583.20 338.68,580.00" fill="#000"/>
<polygon points="359.00,575.00 362.20,578.20 359.00,581.40 355.80,578.20" fill="#000"/>
<polygon points="376.12,572.80 379.32,576.00 376.12,579.20 372.92,576.00" fill="#000"/>
<polygon points="393.24,571.10 396.44,574.30 393.24,577.50 390.04,574.30" fill="#000"/>
<polygon points="410.36,568.55 413.56,571.75 410.36,574.95 407.16,571.75" fill="#000"/>
<polygon points="427.48,566.30 430.68,569.50 427.48,572.70 424.28,569.50" fill="#000"/>
<polygon points="444.60,564.30 447.80,567.50 444.60,570.70 441.40,567.50" fill="#000"/>
<polygon points="461.72,559.80 464.92,563.00 461.72,566.20 458.52,563.00" fill="#000"/>
<polygon points="478.84,558.05 482.04,561.25 478.84,564.45 475.64,561.25" fill="#000"/>
<polygon points="324.76,575.49 327.77,581.06 321.75,581.06" fill="#fff" stroke="#000" stroke-width="1.3"/>
<polygon points="341.88,573.99 344.89,579.56 338.87,579.56" fill="#fff" stroke="#000" stroke-width="1.3"/>
<polygon points="359.00,570.99 362.01,576.56 355.99,576.56" fill="#fff" stroke="#000" stroke-width="1.3"/>
<polygon points="376.12,564.19 379.13,569.76 373.11,569.76" fill="#fff" stroke="#000" stroke-width="1.3"/>
<polygon points="393.24,556.49 396.25,562.06 390.23,562.06" fill="#fff" stroke="#000" stroke-width="1.3"/>
<polygon points="410.36,550.74 413.37,556.31 407.35,556.31" fill="#fff" stroke="#000" stroke-width="1.3"/>
<polygon points="427.48,546.24 430.49,551.81 424.47,551.81" fill="#fff" stroke="#000" stroke-width="1.3"/>
<polygon points="444.60,541.99 447.61,547.56 441.59,547.56" fill="#fff" stroke="#000" stroke-width="1.3"/>
<polygon points="461.72,535.74 464.73,541.31 458.71,541.31" fill="#fff" stroke="#000" stroke-width="1.3"/>
<polygon points="478.84,525.74 481.85,531.31 475.83,531.31" fill="#fff" stroke="#000" stroke-width="1.3"/>
<circle cx="324.76" cy="580.00" r="3.50" fill="#000"/>
<circle cx="341.88" cy="578.75" r="3.50" fill="#000"/>
<circle cx="359.00" cy="577.00" r="3.50" fill="#000"/>
<circle cx="376.12" cy="573.75" r="3.50" fill="#000"/>
<circle cx="393.24" cy="570.30" r="3.50" fill="#000"/>
<circle cx="410.36" cy="564.50" r="3.50" fill="#000"/>
<circle cx="427.48" cy="557.50" r="3.50" fill="#000"/>
<circle cx="444.60" cy="552.50" r="3.50" fill="#000"/>
<circle cx="461.72" cy="549.50" r="3.50" fill="#000"/>
<circle cx="478.84" cy="549.25" r="3.50" fill="#000"/>
<path d="M322.19,578.18L327.33,583.32M322.19,583.32L327.33,578.18M324.76,577.92L324.76,583.58" stroke="#000" stroke-width="1.25" fill="none"/>
<path d="M339.31,577.43L344.45,582.57M339.31,582.57L344.45,577.43M341.88,577.17L341.88,582.83" stroke="#000" stroke-width="1.25" fill="none"/>
<path d="M356.43,576.18L361.57,581.32M356.43,581.32L361.57,576.18M359.00,575.92L359.00,581.58" stroke="#000" stroke-width="1.25" fill="none"/>
<path d="M373.55,575.43L378.69,580.57M373.55,580.57L378.69,575.43M376.12,575.17L376.12,580.83" stroke="#000" stroke-width="1.25" fill="none"/>
<path d="M390.67,574.18L395.81,579.32M390.67,579.32L395.81,574.18M393.24,573.92L393.24,579.58" stroke="#000" stroke-width="1.25" fill="none"/>
<path d="M407.79,572.93L412.93,578.07M407.79,578.07L412.93,572.93M410.36,572.67L410.36,578.33" stroke="#000" stroke-width="1.25" fill="none"/>
<path d="M424.91,571.18L430.05,576.32M424.91,576.32L430.05,571.18M427.48,570.92L427.48,576.58" stroke="#000" stroke-width="1.25" fill="none"/>
<path d="M442.03,569.18L447.17,574.32M442.03,574.32L447.17,569.18M444.60,568.92L444.60,574.58" stroke="#000" stroke-width="1.25" fill="none"/>
<path d="M459.15,567.43L464.29,572.57M459.15,572.57L464.29,567.43M461.72,567.17L461.72,572.83" stroke="#000" stroke-width="1.25" fill="none"/>
<path d="M476.27,564.93L481.41,570.07M476.27,570.07L481.41,564.93M478.84,564.67L478.84,570.33" stroke="#000" stroke-width="1.25" fill="none"/>
<text transform="translate(451.70 448.10)" font-size="10.5" text-anchor="middle" font-weight="bold">TFK-1</text>
<line x1="325.00" y1="448.20" x2="350.00" y2="448.20" stroke="#000" stroke-width="1.6" stroke-linecap="butt"/>
<rect x="334.49" y="445.19" width="6.02" height="6.02" fill="#000"/>
<text transform="translate(353.00 451.90) scale(1.025 1)" font-size="10.45" text-anchor="start" font-weight="normal">Vehicle</text>
<line x1="325.00" y1="465.80" x2="350.00" y2="465.80" stroke="#000" stroke-width="1.4" stroke-dasharray="4 3" stroke-linecap="butt"/>
<polygon points="337.50,462.76 340.54,465.80 337.50,468.84 334.46,465.80" fill="#000"/>
<text transform="translate(353.00 469.50) scale(1.025 1)" font-size="10.45" text-anchor="start" font-weight="normal">AZD6244</text>
<line x1="325.00" y1="483.60" x2="350.00" y2="483.60" stroke="#000" stroke-width="1.4" stroke-dasharray="4 3" stroke-linecap="butt"/>
<polygon points="337.50,481.28 339.82,485.58 335.18,485.58" fill="#fff" stroke="#000" stroke-width="1.1"/>
<text transform="translate(353.00 487.30) scale(1.025 1)" font-size="10.45" text-anchor="start" font-weight="normal">Gem</text>
<line x1="325.00" y1="500.80" x2="350.00" y2="500.80" stroke="#000" stroke-width="1.6" stroke-linecap="butt"/>
<circle cx="337.50" cy="500.80" r="3.32" fill="#000"/>
<text transform="translate(353.00 504.50) scale(1.025 1)" font-size="10.45" text-anchor="start" font-weight="normal">Schedule A</text>
<line x1="325.00" y1="518.60" x2="350.00" y2="518.60" stroke="#000" stroke-width="1.4" stroke-linecap="butt"/>
<path d="M334.86,515.96L340.14,521.24M334.86,521.24L340.14,515.96M337.50,515.70L337.50,521.50" stroke="#000" stroke-width="1.25" fill="none"/>
<text transform="translate(353.00 522.30) scale(1.025 1)" font-size="10.45" text-anchor="start" font-weight="normal">Schedule B</text>
</g>
<rect x="0" y="0" width="520" height="1" fill="#555"/>
<rect x="0" y="1" width="520" height="1" fill="#c4c4c4"/>
<rect x="0" y="0" width="1" height="648" fill="#555"/>
<rect x="1" y="1" width="1" height="647" fill="#e4e4e4"/>
<rect x="518" y="1" width="1" height="647" fill="#9c9c9c"/>
<rect x="519" y="0" width="1" height="648" fill="#5a5a5a"/>
<rect x="1" y="646" width="519" height="1" fill="#aeaeae"/>
<rect x="0" y="647" width="520" height="1" fill="#5a5a5a"/>
</svg>
</body></html>
